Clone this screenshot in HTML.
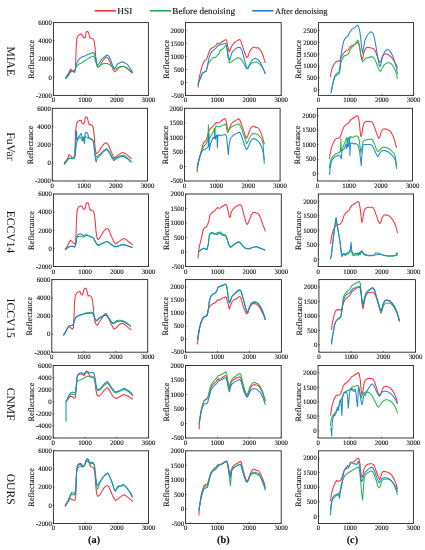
<!DOCTYPE html>
<html><head><meta charset="utf-8"><style>
html,body{margin:0;padding:0;background:#fff;}
svg{display:block;}
text{font-family:"Liberation Serif","Times New Roman",serif;fill:#111;stroke:#111;stroke-width:1.2px;text-rendering:geometricPrecision;}
.t{font-size:7px;}
.yl{font-size:8.2px;}
.rl{font-size:11.6px;}
.lg{font-size:9.2px;}
.cl{font-size:10.3px;font-weight:bold;}
</style></head><body>
<svg width="425" height="550" viewBox="0 0 425 550">
<rect width="425" height="550" fill="#fff"/>

<line x1="94.7" y1="10.8" x2="115.9" y2="10.8" stroke="#ff3040" stroke-width="1.6"/>
<text transform="translate(117.30 14.00) scale(0.1)" font-size="93.00">HSI</text>
<line x1="149.8" y1="10.8" x2="171.2" y2="10.8" stroke="#22b54c" stroke-width="1.6"/>
<text transform="translate(172.30 14.00) scale(0.1)" font-size="91.50">Before denoising</text>
<line x1="252.2" y1="10.8" x2="273.6" y2="10.8" stroke="#1e88cc" stroke-width="1.6"/>
<text transform="translate(275.00 14.00) scale(0.1)" font-size="84.00">After denoising</text>
<text transform="translate(7.20 61.20) rotate(90) scale(0.1)" font-size="116.00" text-anchor="middle" style="stroke:none">MIAE</text>
<text transform="translate(7.20 146.40) rotate(90) scale(0.1)" font-size="116.00" text-anchor="middle" style="stroke:none">FuVar</text>
<text transform="translate(7.20 232.00) rotate(90) scale(0.1)" font-size="116.00" text-anchor="middle" style="stroke:none">ECCV14</text>
<text transform="translate(7.20 318.20) rotate(90) scale(0.1)" font-size="116.00" text-anchor="middle" style="stroke:none">ICCV15</text>
<text transform="translate(7.20 404.20) rotate(90) scale(0.1)" font-size="116.00" text-anchor="middle" style="stroke:none">CNMF</text>
<text transform="translate(7.20 489.20) rotate(90) scale(0.1)" font-size="116.00" text-anchor="middle" style="stroke:none">OURS</text>
<clipPath id="cpa0"><rect x="53.4" y="22.6" width="95.0" height="72.8"/></clipPath>
<g clip-path="url(#cpa0)">
<path d="M65.5 77.9 L67.2 75.4 L68.9 72.5 L70.6 69.1 L71.8 70.3 L73.2 71.5 L74.5 72.5 L75.4 70.3 L76.2 47.4 L76.9 38.1 L78.2 35.6 L79.9 34.4 L81.6 33.9 L83.0 36.4 L84.2 38.1 L85.4 37.2 L86.0 32.5 L87.1 31.3 L88.4 32.2 L89.3 35.6 L90.1 38.1 L91.8 38.6 L93.2 38.9 L94.3 41.5 L95.2 49.1 L96.0 61.0 L96.9 65.2 L98.1 67.4 L99.4 66.4 L101.1 63.5 L103.7 59.3 L106.2 57.1 L107.9 57.9 L109.6 61.0 L111.3 65.2 L113.0 69.4 L114.7 72.0 L116.4 70.3 L118.9 67.7 L121.4 66.4 L124.0 66.4 L126.5 68.1 L129.1 70.3 L131.6 72.5 L132.8 73.3" fill="none" stroke="#ff3040" stroke-width="1.05" stroke-linejoin="round"/>
<path d="M65.5 78.8 L68.1 75.9 L70.6 72.0 L73.2 71.1 L74.9 70.3 L76.6 66.4 L79.1 64.0 L81.6 63.0 L84.2 61.0 L86.7 59.6 L89.3 57.6 L91.8 56.7 L93.5 55.9 L94.8 58.4 L96.0 62.7 L97.2 66.4 L98.6 66.9 L100.3 65.2 L103.7 63.5 L107.0 63.5 L109.6 64.4 L112.1 66.9 L114.7 69.4 L117.2 68.1 L120.6 66.6 L124.0 66.4 L126.5 67.4 L129.1 69.4 L132.5 72.5" fill="none" stroke="#22b54c" stroke-width="1.05" stroke-linejoin="round"/>
<path d="M65.5 78.8 L68.1 75.4 L70.6 71.1 L72.3 71.1 L74.0 71.6 L75.2 69.4 L76.6 63.5 L78.2 60.1 L79.9 58.4 L82.5 56.7 L85.0 55.9 L88.4 54.2 L91.0 53.3 L93.2 52.5 L94.3 53.3 L95.7 57.6 L96.5 63.5 L97.7 65.2 L99.4 62.7 L102.0 58.9 L104.5 56.7 L107.0 55.0 L108.7 55.9 L110.4 59.3 L112.5 65.2 L114.2 68.6 L115.5 67.4 L117.2 64.4 L119.8 62.7 L122.3 61.8 L124.8 62.7 L127.4 64.4 L129.9 67.7 L132.5 72.0" fill="none" stroke="#1e88cc" stroke-width="1.05" stroke-linejoin="round"/>
</g>
<rect x="53.4" y="22.6" width="95.0" height="72.8" fill="none" stroke="#262626" stroke-width="0.9"/>
<text transform="translate(51.90 24.90) scale(0.1)" font-size="68.00" text-anchor="end">6000</text>
<line x1="53.4" y1="22.6" x2="54.6" y2="22.6" stroke="#262626" stroke-width="0.7"/>
<text transform="translate(51.90 43.10) scale(0.1)" font-size="68.00" text-anchor="end">4000</text>
<line x1="53.4" y1="40.8" x2="54.6" y2="40.8" stroke="#262626" stroke-width="0.7"/>
<text transform="translate(51.90 61.30) scale(0.1)" font-size="68.00" text-anchor="end">2000</text>
<line x1="53.4" y1="59.0" x2="54.6" y2="59.0" stroke="#262626" stroke-width="0.7"/>
<text transform="translate(51.90 79.50) scale(0.1)" font-size="68.00" text-anchor="end">0</text>
<line x1="53.4" y1="77.2" x2="54.6" y2="77.2" stroke="#262626" stroke-width="0.7"/>
<text transform="translate(51.90 97.70) scale(0.1)" font-size="68.00" text-anchor="end">-2000</text>
<line x1="53.4" y1="95.4" x2="54.6" y2="95.4" stroke="#262626" stroke-width="0.7"/>
<text transform="translate(53.40 101.70) scale(0.1)" font-size="68.00" text-anchor="middle">0</text>
<line x1="53.4" y1="95.4" x2="53.4" y2="94.2" stroke="#262626" stroke-width="0.7"/>
<text transform="translate(85.07 101.70) scale(0.1)" font-size="68.00" text-anchor="middle">1000</text>
<line x1="85.1" y1="95.4" x2="85.1" y2="94.2" stroke="#262626" stroke-width="0.7"/>
<text transform="translate(116.73 101.70) scale(0.1)" font-size="68.00" text-anchor="middle">2000</text>
<line x1="116.7" y1="95.4" x2="116.7" y2="94.2" stroke="#262626" stroke-width="0.7"/>
<text transform="translate(148.40 101.70) scale(0.1)" font-size="68.00" text-anchor="middle">3000</text>
<line x1="148.4" y1="95.4" x2="148.4" y2="94.2" stroke="#262626" stroke-width="0.7"/>
<text transform="translate(34.00 59.30) rotate(-90) scale(0.1)" font-size="82.00" text-anchor="middle">Reflectance</text>
<clipPath id="cpa1"><rect x="52.3" y="108.3" width="95.2" height="72.7"/></clipPath>
<g clip-path="url(#cpa1)">
<path d="M64.0 163.1 L66.2 160.5 L67.9 158.0 L69.1 154.6 L70.5 155.4 L71.8 157.5 L73.5 158.5 L74.7 155.4 L75.6 131.7 L76.4 124.1 L77.6 121.6 L79.3 120.4 L81.0 120.2 L82.3 123.6 L83.5 124.1 L84.5 122.4 L85.2 117.8 L86.2 116.8 L87.4 117.8 L88.3 121.6 L89.1 124.6 L90.8 124.6 L92.2 125.3 L93.3 128.0 L94.2 135.1 L95.0 147.0 L95.9 152.4 L96.7 153.7 L98.4 152.4 L101.0 147.8 L103.5 144.4 L105.7 142.7 L107.4 143.6 L109.1 146.6 L111.1 151.2 L112.8 155.4 L114.2 158.0 L115.9 156.8 L118.8 154.6 L121.3 152.9 L123.0 152.4 L125.5 153.7 L128.1 155.8 L130.6 158.0 L131.8 158.8" fill="none" stroke="#ff3040" stroke-width="1.05" stroke-linejoin="round"/>
<path d="M64.0 164.8 L66.2 161.9 L68.8 158.5 L71.3 158.5 L73.9 158.5 L75.2 155.4 L76.4 144.4 L77.6 139.3 L78.9 138.2 L80.3 137.1 L81.3 138.5 L82.3 141.0 L83.2 138.5 L84.0 140.2 L84.9 136.8 L85.7 136.8 L87.4 137.6 L89.1 138.5 L90.8 139.3 L92.5 139.8 L93.8 142.7 L95.0 152.9 L95.9 157.1 L97.6 155.8 L100.1 154.1 L102.7 151.7 L105.2 149.5 L106.4 148.7 L107.7 149.5 L109.8 152.4 L112.0 156.8 L113.7 158.8 L116.2 157.5 L118.8 156.3 L121.3 155.4 L123.3 155.1 L125.5 156.3 L128.4 158.8 L131.5 161.9" fill="none" stroke="#22b54c" stroke-width="1.05" stroke-linejoin="round"/>
<path d="M64.0 163.9 L66.2 161.4 L68.8 158.0 L70.5 158.5 L73.0 158.8 L74.7 157.1 L75.6 145.3 L76.4 130.9 L77.2 140.2 L78.1 138.5 L79.3 136.0 L80.3 135.1 L81.0 133.4 L81.7 135.1 L82.3 138.5 L83.2 136.8 L84.0 141.0 L84.5 143.6 L85.0 134.3 L85.7 132.6 L87.1 132.6 L87.9 134.3 L88.8 137.6 L90.5 138.5 L92.2 139.3 L93.7 141.9 L94.5 152.0 L95.5 159.7 L96.2 161.9 L97.2 158.0 L99.3 156.3 L101.8 153.4 L104.4 150.7 L106.4 149.5 L107.7 150.4 L109.8 153.7 L112.0 158.0 L113.7 160.5 L115.4 159.3 L117.9 158.0 L120.4 156.8 L123.0 156.3 L125.5 157.5 L128.4 159.7 L131.5 162.6" fill="none" stroke="#1e88cc" stroke-width="1.05" stroke-linejoin="round"/>
</g>
<rect x="52.3" y="108.3" width="95.2" height="72.7" fill="none" stroke="#262626" stroke-width="0.9"/>
<text transform="translate(50.80 110.60) scale(0.1)" font-size="68.00" text-anchor="end">6000</text>
<line x1="52.3" y1="108.3" x2="53.5" y2="108.3" stroke="#262626" stroke-width="0.7"/>
<text transform="translate(50.80 128.78) scale(0.1)" font-size="68.00" text-anchor="end">4000</text>
<line x1="52.3" y1="126.5" x2="53.5" y2="126.5" stroke="#262626" stroke-width="0.7"/>
<text transform="translate(50.80 146.95) scale(0.1)" font-size="68.00" text-anchor="end">2000</text>
<line x1="52.3" y1="144.7" x2="53.5" y2="144.7" stroke="#262626" stroke-width="0.7"/>
<text transform="translate(50.80 165.12) scale(0.1)" font-size="68.00" text-anchor="end">0</text>
<line x1="52.3" y1="162.8" x2="53.5" y2="162.8" stroke="#262626" stroke-width="0.7"/>
<text transform="translate(50.80 183.30) scale(0.1)" font-size="68.00" text-anchor="end">-2000</text>
<line x1="52.3" y1="181.0" x2="53.5" y2="181.0" stroke="#262626" stroke-width="0.7"/>
<text transform="translate(52.30 187.60) scale(0.1)" font-size="68.00" text-anchor="middle">0</text>
<line x1="52.3" y1="181.0" x2="52.3" y2="179.8" stroke="#262626" stroke-width="0.7"/>
<text transform="translate(84.03 187.60) scale(0.1)" font-size="68.00" text-anchor="middle">1000</text>
<line x1="84.0" y1="181.0" x2="84.0" y2="179.8" stroke="#262626" stroke-width="0.7"/>
<text transform="translate(115.77 187.60) scale(0.1)" font-size="68.00" text-anchor="middle">2000</text>
<line x1="115.8" y1="181.0" x2="115.8" y2="179.8" stroke="#262626" stroke-width="0.7"/>
<text transform="translate(147.50 187.60) scale(0.1)" font-size="68.00" text-anchor="middle">3000</text>
<line x1="147.5" y1="181.0" x2="147.5" y2="179.8" stroke="#262626" stroke-width="0.7"/>
<text transform="translate(32.90 144.95) rotate(-90) scale(0.1)" font-size="82.00" text-anchor="middle">Reflectance</text>
<clipPath id="cpa2"><rect x="53.4" y="194.0" width="95.1" height="72.5"/></clipPath>
<g clip-path="url(#cpa2)">
<path d="M65.0 249.9 L66.7 247.4 L68.9 243.1 L70.6 240.1 L71.8 241.4 L73.5 243.1 L74.9 244.0 L75.7 241.4 L76.6 217.7 L77.2 210.1 L78.6 207.2 L80.3 205.9 L82.0 206.2 L83.0 208.9 L84.2 209.6 L85.4 207.6 L86.0 203.8 L87.1 202.5 L88.4 203.3 L89.3 207.2 L90.1 210.1 L91.8 210.1 L93.2 210.9 L94.3 214.0 L95.2 221.1 L96.0 231.3 L96.9 237.2 L98.1 239.7 L99.4 238.4 L101.6 234.7 L104.0 230.9 L106.2 228.7 L107.9 228.7 L109.1 230.4 L110.8 234.7 L112.5 238.9 L114.2 242.3 L115.5 244.0 L117.6 242.8 L120.3 240.6 L122.6 238.9 L124.0 238.4 L126.0 239.4 L128.7 241.8 L131.1 243.5 L132.8 244.8" fill="none" stroke="#ff3040" stroke-width="1.05" stroke-linejoin="round"/>
<path d="M65.0 249.9 L67.2 248.2 L69.8 246.5 L72.3 246.2 L74.5 246.9 L75.7 245.2 L76.6 238.4 L77.9 236.4 L79.9 236.4 L82.0 236.7 L83.7 237.2 L85.0 236.0 L86.4 235.2 L88.4 235.7 L90.1 236.4 L92.1 237.4 L93.8 238.7 L95.5 242.1 L97.2 244.8 L98.9 245.3 L101.1 244.1 L103.7 243.0 L106.2 241.6 L107.9 241.9 L110.1 243.6 L112.5 245.5 L114.7 246.9 L116.9 246.7 L118.9 245.8 L121.4 245.0 L123.6 244.7 L126.0 245.3 L128.7 246.3 L132.5 247.5" fill="none" stroke="#22b54c" stroke-width="1.05" stroke-linejoin="round"/>
<path d="M65.0 249.6 L67.2 247.9 L69.8 246.5 L72.3 246.2 L74.5 246.9 L75.7 244.8 L76.6 237.2 L77.9 234.7 L79.9 233.8 L81.6 234.3 L83.3 235.5 L85.4 235.0 L86.7 234.7 L88.4 235.5 L90.1 236.4 L92.1 237.2 L93.8 238.4 L95.5 241.8 L97.2 244.5 L98.9 245.2 L101.1 244.0 L103.7 242.8 L106.2 241.4 L107.9 241.8 L110.1 243.5 L112.5 245.2 L114.7 246.5 L116.9 246.5 L118.9 245.7 L121.4 244.8 L123.6 244.5 L126.0 245.2 L128.7 246.2 L132.5 247.4" fill="none" stroke="#1e88cc" stroke-width="1.05" stroke-linejoin="round"/>
</g>
<rect x="53.4" y="194.0" width="95.1" height="72.5" fill="none" stroke="#262626" stroke-width="0.9"/>
<text transform="translate(51.90 196.30) scale(0.1)" font-size="68.00" text-anchor="end">6000</text>
<line x1="53.4" y1="194.0" x2="54.6" y2="194.0" stroke="#262626" stroke-width="0.7"/>
<text transform="translate(51.90 214.43) scale(0.1)" font-size="68.00" text-anchor="end">4000</text>
<line x1="53.4" y1="212.1" x2="54.6" y2="212.1" stroke="#262626" stroke-width="0.7"/>
<text transform="translate(51.90 232.55) scale(0.1)" font-size="68.00" text-anchor="end">2000</text>
<line x1="53.4" y1="230.2" x2="54.6" y2="230.2" stroke="#262626" stroke-width="0.7"/>
<text transform="translate(51.90 250.68) scale(0.1)" font-size="68.00" text-anchor="end">0</text>
<line x1="53.4" y1="248.4" x2="54.6" y2="248.4" stroke="#262626" stroke-width="0.7"/>
<text transform="translate(51.90 268.80) scale(0.1)" font-size="68.00" text-anchor="end">-2000</text>
<line x1="53.4" y1="266.5" x2="54.6" y2="266.5" stroke="#262626" stroke-width="0.7"/>
<text transform="translate(53.40 273.60) scale(0.1)" font-size="68.00" text-anchor="middle">0</text>
<line x1="53.4" y1="266.5" x2="53.4" y2="265.3" stroke="#262626" stroke-width="0.7"/>
<text transform="translate(85.10 273.60) scale(0.1)" font-size="68.00" text-anchor="middle">1000</text>
<line x1="85.1" y1="266.5" x2="85.1" y2="265.3" stroke="#262626" stroke-width="0.7"/>
<text transform="translate(116.80 273.60) scale(0.1)" font-size="68.00" text-anchor="middle">2000</text>
<line x1="116.8" y1="266.5" x2="116.8" y2="265.3" stroke="#262626" stroke-width="0.7"/>
<text transform="translate(148.50 273.60) scale(0.1)" font-size="68.00" text-anchor="middle">3000</text>
<line x1="148.5" y1="266.5" x2="148.5" y2="265.3" stroke="#262626" stroke-width="0.7"/>
<text transform="translate(34.00 230.55) rotate(-90) scale(0.1)" font-size="82.00" text-anchor="middle">Reflectance</text>
<clipPath id="cpa3"><rect x="51.8" y="279.6" width="95.9" height="72.6"/></clipPath>
<g clip-path="url(#cpa3)">
<path d="M63.5 335.6 L65.2 332.5 L66.9 329.1 L68.6 326.1 L69.8 327.1 L71.2 328.3 L72.5 329.1 L73.5 327.8 L74.6 302.0 L75.4 295.2 L76.6 293.2 L78.3 291.9 L80.0 291.5 L81.0 294.4 L82.0 295.2 L83.0 293.6 L83.9 289.3 L85.1 288.1 L86.4 288.8 L87.3 292.7 L88.1 296.1 L89.8 295.6 L91.2 296.6 L92.3 299.5 L93.2 306.3 L94.0 315.6 L94.9 321.5 L96.1 324.4 L97.3 325.4 L98.6 323.2 L100.8 319.8 L103.0 316.4 L104.7 313.9 L106.1 313.5 L107.6 315.9 L109.3 319.8 L111.0 323.7 L112.7 327.1 L113.9 329.1 L115.6 328.3 L117.8 326.1 L120.3 324.0 L122.0 323.2 L124.0 324.0 L126.7 326.1 L129.1 328.3 L131.3 330.0" fill="none" stroke="#ff3040" stroke-width="1.05" stroke-linejoin="round"/>
<path d="M63.5 335.1 L65.2 332.5 L66.9 329.5 L68.6 326.6 L70.3 325.7 L72.0 325.4 L73.2 324.7 L74.2 321.0 L75.4 318.1 L77.1 316.4 L79.3 315.2 L81.3 314.4 L83.0 313.9 L85.1 313.0 L87.3 312.7 L89.5 312.5 L91.5 312.2 L92.8 313.0 L94.0 315.9 L95.2 319.0 L96.2 320.3 L97.4 319.6 L99.1 317.9 L101.3 316.6 L103.7 315.6 L105.4 314.9 L106.7 315.2 L108.4 317.3 L110.5 320.3 L112.7 323.2 L114.4 322.4 L116.1 321.0 L118.3 320.3 L120.6 320.3 L122.8 320.7 L125.4 322.0 L127.9 323.7 L130.8 326.1" fill="none" stroke="#22b54c" stroke-width="1.05" stroke-linejoin="round"/>
<path d="M63.5 335.1 L65.2 332.5 L66.9 329.5 L68.6 326.6 L70.3 325.7 L72.0 325.4 L73.2 324.9 L74.2 321.5 L75.4 318.1 L77.1 316.4 L79.3 315.6 L81.3 314.7 L83.0 314.2 L85.1 313.5 L87.3 313.4 L89.5 313.4 L91.5 312.7 L92.8 313.5 L94.0 316.4 L95.2 319.3 L96.2 321.0 L97.4 320.3 L99.1 318.6 L101.3 317.3 L103.7 315.9 L105.4 315.2 L106.7 315.6 L108.4 317.6 L110.5 320.7 L112.7 323.7 L114.4 323.2 L116.1 322.0 L118.3 321.2 L120.6 321.2 L122.8 321.5 L125.4 322.7 L127.9 324.4 L130.8 326.6" fill="none" stroke="#1e88cc" stroke-width="1.05" stroke-linejoin="round"/>
</g>
<rect x="51.8" y="279.6" width="95.9" height="72.6" fill="none" stroke="#262626" stroke-width="0.9"/>
<text transform="translate(50.30 281.90) scale(0.1)" font-size="68.00" text-anchor="end">6000</text>
<line x1="51.8" y1="279.6" x2="53.0" y2="279.6" stroke="#262626" stroke-width="0.7"/>
<text transform="translate(50.30 300.05) scale(0.1)" font-size="68.00" text-anchor="end">4000</text>
<line x1="51.8" y1="297.8" x2="53.0" y2="297.8" stroke="#262626" stroke-width="0.7"/>
<text transform="translate(50.30 318.20) scale(0.1)" font-size="68.00" text-anchor="end">2000</text>
<line x1="51.8" y1="315.9" x2="53.0" y2="315.9" stroke="#262626" stroke-width="0.7"/>
<text transform="translate(50.30 336.35) scale(0.1)" font-size="68.00" text-anchor="end">0</text>
<line x1="51.8" y1="334.1" x2="53.0" y2="334.1" stroke="#262626" stroke-width="0.7"/>
<text transform="translate(50.30 354.50) scale(0.1)" font-size="68.00" text-anchor="end">-2000</text>
<line x1="51.8" y1="352.2" x2="53.0" y2="352.2" stroke="#262626" stroke-width="0.7"/>
<text transform="translate(51.80 359.00) scale(0.1)" font-size="68.00" text-anchor="middle">0</text>
<line x1="51.8" y1="352.2" x2="51.8" y2="351.0" stroke="#262626" stroke-width="0.7"/>
<text transform="translate(83.77 359.00) scale(0.1)" font-size="68.00" text-anchor="middle">1000</text>
<line x1="83.8" y1="352.2" x2="83.8" y2="351.0" stroke="#262626" stroke-width="0.7"/>
<text transform="translate(115.73 359.00) scale(0.1)" font-size="68.00" text-anchor="middle">2000</text>
<line x1="115.7" y1="352.2" x2="115.7" y2="351.0" stroke="#262626" stroke-width="0.7"/>
<text transform="translate(147.70 359.00) scale(0.1)" font-size="68.00" text-anchor="middle">3000</text>
<line x1="147.7" y1="352.2" x2="147.7" y2="351.0" stroke="#262626" stroke-width="0.7"/>
<text transform="translate(32.40 316.20) rotate(-90) scale(0.1)" font-size="82.00" text-anchor="middle">Reflectance</text>
<clipPath id="cpa4"><rect x="53.2" y="365.5" width="95.4" height="72.5"/></clipPath>
<g clip-path="url(#cpa4)">
<path d="M66.0 401.4 L67.2 400.2 L68.9 398.0 L70.6 396.3 L72.3 396.8 L74.0 398.0 L75.2 398.0 L76.2 390.4 L76.9 378.6 L77.9 375.2 L79.9 374.3 L81.6 373.8 L83.0 374.8 L84.2 375.5 L85.4 373.5 L86.4 371.8 L87.6 372.1 L88.8 374.3 L90.1 376.0 L91.8 376.5 L93.2 376.9 L94.3 378.6 L95.2 383.6 L96.0 390.4 L96.9 394.6 L98.2 396.3 L99.9 395.5 L102.3 393.0 L104.5 390.1 L106.7 387.9 L107.9 387.9 L109.6 390.4 L111.3 393.8 L113.0 396.3 L114.7 398.0 L116.4 398.5 L118.9 397.2 L121.4 395.5 L123.6 394.6 L125.7 395.2 L128.2 396.3 L130.8 398.0 L132.8 399.4" fill="none" stroke="#ff3040" stroke-width="1.05" stroke-linejoin="round"/>
<path d="M66.0 401.4 L67.2 399.7 L68.9 396.8 L70.6 394.6 L72.3 394.1 L74.0 394.6 L75.2 395.2 L76.2 388.7 L76.9 381.9 L77.9 380.2 L79.9 379.9 L81.6 379.4 L83.0 378.6 L84.2 378.2 L85.4 377.2 L86.7 376.5 L88.1 376.0 L89.3 376.5 L90.4 377.2 L92.1 377.2 L93.5 377.2 L94.5 379.4 L95.4 383.6 L96.2 387.9 L97.2 390.1 L98.6 390.8 L100.3 389.6 L102.3 387.4 L104.5 385.0 L106.7 383.3 L107.9 383.3 L109.6 385.7 L111.8 389.1 L113.8 391.8 L115.9 393.0 L117.6 392.1 L119.8 391.3 L122.3 390.1 L124.0 389.6 L126.0 390.1 L128.7 391.8 L130.8 393.5 L132.8 396.3" fill="none" stroke="#22b54c" stroke-width="1.05" stroke-linejoin="round"/>
<path d="M66.0 421.8 L66.0 401.4 L67.2 398.9 L68.9 395.5 L70.6 393.0 L72.3 392.1 L74.0 392.4 L75.2 393.0 L76.2 385.3 L76.9 377.7 L77.9 374.3 L79.9 373.1 L81.6 372.6 L83.0 373.8 L84.2 374.3 L85.4 372.1 L86.4 370.9 L87.6 371.4 L88.8 372.6 L90.1 373.1 L91.8 372.6 L93.2 372.6 L94.3 374.3 L95.2 378.6 L96.0 384.5 L96.9 388.7 L98.2 390.1 L99.9 388.7 L102.3 386.2 L104.5 383.6 L106.7 381.6 L107.9 381.9 L109.6 384.5 L111.8 387.9 L113.8 390.4 L115.9 392.1 L117.6 391.3 L119.8 390.4 L122.3 389.1 L124.0 388.4 L126.0 389.1 L128.7 390.8 L130.8 392.4 L132.8 395.5" fill="none" stroke="#1e88cc" stroke-width="1.05" stroke-linejoin="round"/>
</g>
<rect x="53.2" y="365.5" width="95.4" height="72.5" fill="none" stroke="#262626" stroke-width="0.9"/>
<text transform="translate(51.70 367.80) scale(0.1)" font-size="68.00" text-anchor="end">6000</text>
<line x1="53.2" y1="365.5" x2="54.4" y2="365.5" stroke="#262626" stroke-width="0.7"/>
<text transform="translate(51.70 379.88) scale(0.1)" font-size="68.00" text-anchor="end">4000</text>
<line x1="53.2" y1="377.6" x2="54.4" y2="377.6" stroke="#262626" stroke-width="0.7"/>
<text transform="translate(51.70 391.97) scale(0.1)" font-size="68.00" text-anchor="end">2000</text>
<line x1="53.2" y1="389.7" x2="54.4" y2="389.7" stroke="#262626" stroke-width="0.7"/>
<text transform="translate(51.70 404.05) scale(0.1)" font-size="68.00" text-anchor="end">0</text>
<line x1="53.2" y1="401.8" x2="54.4" y2="401.8" stroke="#262626" stroke-width="0.7"/>
<text transform="translate(51.70 416.13) scale(0.1)" font-size="68.00" text-anchor="end">-2000</text>
<line x1="53.2" y1="413.8" x2="54.4" y2="413.8" stroke="#262626" stroke-width="0.7"/>
<text transform="translate(51.70 428.22) scale(0.1)" font-size="68.00" text-anchor="end">-4000</text>
<line x1="53.2" y1="425.9" x2="54.4" y2="425.9" stroke="#262626" stroke-width="0.7"/>
<text transform="translate(51.70 440.30) scale(0.1)" font-size="68.00" text-anchor="end">-6000</text>
<line x1="53.2" y1="438.0" x2="54.4" y2="438.0" stroke="#262626" stroke-width="0.7"/>
<text transform="translate(53.20 444.70) scale(0.1)" font-size="68.00" text-anchor="middle">0</text>
<line x1="53.2" y1="438.0" x2="53.2" y2="436.8" stroke="#262626" stroke-width="0.7"/>
<text transform="translate(85.00 444.70) scale(0.1)" font-size="68.00" text-anchor="middle">1000</text>
<line x1="85.0" y1="438.0" x2="85.0" y2="436.8" stroke="#262626" stroke-width="0.7"/>
<text transform="translate(116.80 444.70) scale(0.1)" font-size="68.00" text-anchor="middle">2000</text>
<line x1="116.8" y1="438.0" x2="116.8" y2="436.8" stroke="#262626" stroke-width="0.7"/>
<text transform="translate(148.60 444.70) scale(0.1)" font-size="68.00" text-anchor="middle">3000</text>
<line x1="148.6" y1="438.0" x2="148.6" y2="436.8" stroke="#262626" stroke-width="0.7"/>
<text transform="translate(33.80 402.05) rotate(-90) scale(0.1)" font-size="82.00" text-anchor="middle">Reflectance</text>
<clipPath id="cpa5"><rect x="53.4" y="450.8" width="95.1" height="72.7"/></clipPath>
<g clip-path="url(#cpa5)">
<path d="M65.0 506.6 L66.7 503.9 L68.4 501.5 L70.1 498.1 L71.5 499.3 L73.2 500.1 L74.9 500.5 L75.7 496.7 L76.6 470.5 L77.4 465.4 L79.1 463.7 L80.8 463.2 L82.5 465.4 L83.7 466.2 L85.0 464.2 L86.0 460.8 L87.1 459.5 L88.4 460.3 L89.4 463.7 L90.4 466.6 L92.1 467.1 L93.5 467.9 L94.5 470.5 L95.2 478.1 L96.0 488.3 L96.9 494.7 L97.9 496.4 L99.4 495.4 L101.6 491.7 L104.0 487.9 L106.2 485.7 L107.9 485.7 L109.1 487.4 L110.8 491.3 L112.5 495.4 L114.2 498.8 L115.5 500.5 L117.6 499.3 L120.3 497.1 L122.6 495.4 L124.0 494.7 L126.0 495.9 L128.7 498.1 L131.1 500.1 L132.8 501.5" fill="none" stroke="#ff3040" stroke-width="1.05" stroke-linejoin="round"/>
<path d="M65.0 506.1 L66.7 503.2 L68.4 500.5 L70.1 495.4 L71.5 492.5 L73.2 493.0 L74.5 493.4 L75.7 490.3 L76.6 472.7 L77.4 468.8 L79.1 466.6 L80.8 465.9 L82.5 467.1 L83.7 466.6 L85.0 464.6 L86.0 462.0 L87.1 461.2 L88.4 462.0 L89.4 463.2 L90.4 464.2 L92.1 463.2 L93.5 463.7 L94.5 466.2 L95.2 473.0 L96.0 480.6 L96.9 487.9 L97.9 489.1 L99.4 484.0 L101.6 479.5 L104.0 476.1 L106.2 473.9 L107.4 473.0 L108.7 474.7 L110.4 478.4 L112.5 484.0 L114.2 489.6 L115.5 491.3 L117.2 486.9 L118.9 485.7 L121.4 486.2 L123.1 484.5 L124.8 485.7 L127.0 488.3 L129.1 491.3 L130.8 494.2 L132.5 497.6" fill="none" stroke="#22b54c" stroke-width="1.05" stroke-linejoin="round"/>
<path d="M65.0 505.6 L66.7 502.7 L68.4 499.8 L70.1 496.4 L71.5 494.2 L73.2 494.7 L74.9 495.0 L75.7 491.7 L76.6 471.3 L77.4 466.2 L79.1 464.2 L80.8 464.6 L82.5 466.2 L83.7 465.9 L85.0 463.7 L86.0 460.3 L87.1 458.6 L88.4 459.5 L89.4 461.5 L90.4 462.9 L92.1 462.0 L93.5 462.9 L94.5 465.4 L95.2 471.3 L96.0 479.8 L96.9 485.7 L97.9 484.9 L99.4 482.3 L101.6 479.0 L104.0 476.1 L106.2 473.9 L107.4 473.0 L108.7 474.4 L110.4 478.1 L112.5 483.2 L114.2 489.1 L115.5 490.8 L117.2 488.3 L118.9 486.6 L121.4 485.7 L123.1 484.5 L124.8 485.7 L127.0 487.9 L129.1 490.8 L130.8 493.0 L132.5 496.7" fill="none" stroke="#1e88cc" stroke-width="1.05" stroke-linejoin="round"/>
</g>
<rect x="53.4" y="450.8" width="95.1" height="72.7" fill="none" stroke="#262626" stroke-width="0.9"/>
<text transform="translate(51.90 453.10) scale(0.1)" font-size="68.00" text-anchor="end">6000</text>
<line x1="53.4" y1="450.8" x2="54.6" y2="450.8" stroke="#262626" stroke-width="0.7"/>
<text transform="translate(51.90 471.28) scale(0.1)" font-size="68.00" text-anchor="end">4000</text>
<line x1="53.4" y1="469.0" x2="54.6" y2="469.0" stroke="#262626" stroke-width="0.7"/>
<text transform="translate(51.90 489.45) scale(0.1)" font-size="68.00" text-anchor="end">2000</text>
<line x1="53.4" y1="487.1" x2="54.6" y2="487.1" stroke="#262626" stroke-width="0.7"/>
<text transform="translate(51.90 507.62) scale(0.1)" font-size="68.00" text-anchor="end">0</text>
<line x1="53.4" y1="505.3" x2="54.6" y2="505.3" stroke="#262626" stroke-width="0.7"/>
<text transform="translate(51.90 525.80) scale(0.1)" font-size="68.00" text-anchor="end">-2000</text>
<line x1="53.4" y1="523.5" x2="54.6" y2="523.5" stroke="#262626" stroke-width="0.7"/>
<text transform="translate(53.40 530.00) scale(0.1)" font-size="68.00" text-anchor="middle">0</text>
<line x1="53.4" y1="523.5" x2="53.4" y2="522.3" stroke="#262626" stroke-width="0.7"/>
<text transform="translate(85.10 530.00) scale(0.1)" font-size="68.00" text-anchor="middle">1000</text>
<line x1="85.1" y1="523.5" x2="85.1" y2="522.3" stroke="#262626" stroke-width="0.7"/>
<text transform="translate(116.80 530.00) scale(0.1)" font-size="68.00" text-anchor="middle">2000</text>
<line x1="116.8" y1="523.5" x2="116.8" y2="522.3" stroke="#262626" stroke-width="0.7"/>
<text transform="translate(148.50 530.00) scale(0.1)" font-size="68.00" text-anchor="middle">3000</text>
<line x1="148.5" y1="523.5" x2="148.5" y2="522.3" stroke="#262626" stroke-width="0.7"/>
<text transform="translate(34.00 487.45) rotate(-90) scale(0.1)" font-size="82.00" text-anchor="middle">Reflectance</text>
<clipPath id="cpb0"><rect x="185.5" y="22.6" width="95.7" height="72.8"/></clipPath>
<g clip-path="url(#cpb0)">
<path d="M198.0 87.4 L198.7 81.4 L199.7 75.5 L200.9 70.4 L202.1 66.2 L203.5 62.3 L204.8 60.3 L206.0 59.9 L207.2 57.7 L208.2 54.3 L209.4 51.0 L211.1 48.4 L212.8 47.6 L214.5 46.7 L216.2 45.0 L217.4 43.3 L218.7 43.7 L220.4 43.0 L222.1 41.6 L223.8 40.8 L225.5 39.6 L226.7 40.3 L227.5 45.0 L228.5 49.3 L229.4 51.8 L230.2 49.8 L231.4 46.7 L233.1 44.2 L235.3 41.6 L237.7 40.4 L239.4 39.6 L240.4 39.9 L241.6 43.3 L243.3 48.4 L245.0 53.5 L246.7 57.7 L247.9 56.5 L249.2 52.6 L250.9 49.3 L252.6 47.6 L254.3 47.1 L256.3 48.1 L258.0 47.6 L259.7 49.3 L261.4 51.8 L263.1 56.0 L264.8 61.1 L265.3 62.8" fill="none" stroke="#ff3040" stroke-width="1.05" stroke-linejoin="round"/>
<path d="M198.0 84.8 L198.7 82.3 L200.1 78.9 L201.4 75.5 L202.6 73.0 L204.3 72.1 L206.0 71.3 L207.2 67.4 L208.2 63.3 L210.1 61.1 L211.4 59.3 L213.3 57.7 L215.3 57.2 L216.7 56.4 L218.0 54.5 L219.1 53.5 L219.9 50.8 L221.8 49.8 L223.8 47.9 L225.2 46.0 L226.0 45.5 L227.0 48.8 L227.9 57.2 L229.4 62.5 L230.7 62.5 L232.6 60.6 L233.6 60.3 L236.0 58.6 L238.2 57.7 L239.9 58.2 L241.6 59.9 L243.3 62.8 L245.0 66.2 L246.7 68.7 L247.9 67.9 L249.6 65.0 L251.8 63.3 L254.0 62.3 L256.0 62.0 L258.0 62.8 L260.2 64.5 L261.9 66.7 L263.6 69.6 L265.3 73.8" fill="none" stroke="#22b54c" stroke-width="1.05" stroke-linejoin="round"/>
<path d="M198.0 84.8 L198.7 82.3 L200.1 78.9 L201.4 75.5 L202.6 73.0 L204.3 72.1 L206.0 71.3 L207.2 67.4 L208.2 62.3 L209.1 57.7 L210.6 53.5 L211.9 51.6 L213.8 49.8 L215.7 48.4 L217.5 46.0 L219.4 45.0 L221.8 44.2 L224.1 43.7 L225.7 43.2 L226.5 45.0 L227.5 50.6 L228.4 56.4 L229.7 60.1 L230.6 56.9 L231.9 52.6 L234.0 50.1 L236.5 48.1 L238.7 47.2 L240.4 47.6 L241.8 50.1 L243.3 55.2 L245.0 62.0 L246.7 67.9 L247.9 68.7 L249.2 65.4 L250.9 62.0 L252.9 59.4 L255.1 58.2 L256.8 58.9 L258.5 59.9 L260.2 62.3 L261.9 65.7 L263.6 69.6 L265.3 73.8" fill="none" stroke="#1e88cc" stroke-width="1.05" stroke-linejoin="round"/>
</g>
<rect x="185.5" y="22.6" width="95.7" height="72.8" fill="none" stroke="#262626" stroke-width="0.9"/>
<text transform="translate(184.00 32.60) scale(0.1)" font-size="68.00" text-anchor="end">2000</text>
<line x1="185.5" y1="30.3" x2="186.7" y2="30.3" stroke="#262626" stroke-width="0.7"/>
<text transform="translate(184.00 45.65) scale(0.1)" font-size="68.00" text-anchor="end">1500</text>
<line x1="185.5" y1="43.3" x2="186.7" y2="43.3" stroke="#262626" stroke-width="0.7"/>
<text transform="translate(184.00 58.70) scale(0.1)" font-size="68.00" text-anchor="end">1000</text>
<line x1="185.5" y1="56.4" x2="186.7" y2="56.4" stroke="#262626" stroke-width="0.7"/>
<text transform="translate(184.00 71.75) scale(0.1)" font-size="68.00" text-anchor="end">500</text>
<line x1="185.5" y1="69.5" x2="186.7" y2="69.5" stroke="#262626" stroke-width="0.7"/>
<text transform="translate(184.00 84.80) scale(0.1)" font-size="68.00" text-anchor="end">0</text>
<line x1="185.5" y1="82.5" x2="186.7" y2="82.5" stroke="#262626" stroke-width="0.7"/>
<text transform="translate(184.00 97.85) scale(0.1)" font-size="68.00" text-anchor="end">-500</text>
<line x1="185.5" y1="95.5" x2="186.7" y2="95.5" stroke="#262626" stroke-width="0.7"/>
<text transform="translate(185.50 101.70) scale(0.1)" font-size="68.00" text-anchor="middle">0</text>
<line x1="185.5" y1="95.4" x2="185.5" y2="94.2" stroke="#262626" stroke-width="0.7"/>
<text transform="translate(217.40 101.70) scale(0.1)" font-size="68.00" text-anchor="middle">1000</text>
<line x1="217.4" y1="95.4" x2="217.4" y2="94.2" stroke="#262626" stroke-width="0.7"/>
<text transform="translate(249.30 101.70) scale(0.1)" font-size="68.00" text-anchor="middle">2000</text>
<line x1="249.3" y1="95.4" x2="249.3" y2="94.2" stroke="#262626" stroke-width="0.7"/>
<text transform="translate(281.20 101.70) scale(0.1)" font-size="68.00" text-anchor="middle">3000</text>
<line x1="281.2" y1="95.4" x2="281.2" y2="94.2" stroke="#262626" stroke-width="0.7"/>
<text transform="translate(168.50 59.30) rotate(-90) scale(0.1)" font-size="82.00" text-anchor="middle">Reflectance</text>
<clipPath id="cpb1"><rect x="184.5" y="108.3" width="95.6" height="72.7"/></clipPath>
<g clip-path="url(#cpb1)">
<path d="M197.0 172.4 L197.9 164.4 L199.1 158.8 L200.8 153.1 L202.0 148.2 L203.3 143.2 L205.2 141.5 L206.5 139.2 L207.7 134.9 L208.9 131.2 L210.1 128.7 L211.8 127.5 L213.5 125.8 L215.2 123.6 L216.4 122.4 L218.1 122.9 L219.8 121.9 L221.4 120.7 L223.1 119.5 L224.8 118.5 L225.8 119.5 L226.7 124.1 L227.5 128.3 L228.4 131.7 L229.2 129.2 L230.4 125.8 L232.1 122.9 L234.3 121.2 L236.7 119.9 L238.4 118.7 L239.7 119.5 L241.1 123.2 L242.8 128.3 L244.5 133.4 L246.2 138.2 L247.4 136.8 L249.1 131.7 L250.8 128.0 L252.4 126.3 L254.1 126.3 L255.8 127.5 L257.5 127.5 L259.2 129.2 L260.9 132.6 L262.6 137.6 L264.0 142.7 L264.3 144.4" fill="none" stroke="#ff3040" stroke-width="1.05" stroke-linejoin="round"/>
<path d="M197.0 170.7 L197.7 166.4 L198.7 161.4 L199.9 156.3 L201.1 151.7 L202.5 148.7 L204.2 146.1 L205.9 143.9 L207.2 141.9 L207.9 139.3 L208.4 124.9 L208.7 139.3 L209.6 138.5 L210.9 136.0 L212.3 133.4 L213.5 130.9 L214.3 128.3 L214.8 135.1 L215.3 128.3 L216.0 125.8 L216.9 126.6 L218.1 127.0 L220.3 126.3 L222.0 125.8 L223.6 124.9 L225.3 124.1 L226.2 125.8 L227.0 130.9 L227.9 132.6 L228.7 130.0 L230.4 128.0 L232.6 126.3 L235.5 124.9 L238.4 124.1 L239.7 124.6 L241.4 128.3 L243.5 134.3 L245.2 139.3 L246.5 143.6 L247.9 141.9 L249.6 137.6 L251.3 134.8 L253.3 133.4 L255.0 133.8 L256.7 134.3 L258.4 135.1 L260.1 136.8 L261.8 139.3 L263.1 143.6 L264.0 158.8 L264.3 163.9" fill="none" stroke="#22b54c" stroke-width="1.05" stroke-linejoin="round"/>
<path d="M197.0 167.8 L198.2 162.0 L199.9 156.3 L202.0 151.4 L203.1 149.7 L205.2 149.3 L207.4 147.3 L208.2 146.5 L208.9 133.1 L209.4 150.4 L210.3 144.4 L211.8 140.2 L213.0 137.6 L214.0 138.5 L214.7 131.7 L215.3 139.3 L216.0 136.8 L216.9 135.1 L217.4 147.8 L217.9 135.1 L219.4 135.1 L221.1 135.4 L222.8 135.1 L224.5 134.8 L225.8 134.8 L226.7 137.6 L227.5 145.3 L228.4 154.6 L229.1 145.3 L230.4 138.5 L232.6 136.0 L234.7 134.3 L237.2 133.1 L238.9 132.2 L240.1 132.6 L241.8 136.8 L243.5 141.9 L245.2 147.0 L246.5 149.5 L247.9 147.8 L249.6 143.6 L251.3 140.2 L253.0 138.5 L254.6 138.8 L256.3 139.8 L258.0 141.0 L260.1 143.6 L261.8 147.8 L263.5 153.7 L264.3 160.5" fill="none" stroke="#1e88cc" stroke-width="1.05" stroke-linejoin="round"/>
</g>
<rect x="184.5" y="108.3" width="95.6" height="72.7" fill="none" stroke="#262626" stroke-width="0.9"/>
<text transform="translate(183.00 110.60) scale(0.1)" font-size="68.00" text-anchor="end">2000</text>
<line x1="184.5" y1="108.3" x2="185.7" y2="108.3" stroke="#262626" stroke-width="0.7"/>
<text transform="translate(183.00 125.14) scale(0.1)" font-size="68.00" text-anchor="end">1500</text>
<line x1="184.5" y1="122.8" x2="185.7" y2="122.8" stroke="#262626" stroke-width="0.7"/>
<text transform="translate(183.00 139.68) scale(0.1)" font-size="68.00" text-anchor="end">1000</text>
<line x1="184.5" y1="137.4" x2="185.7" y2="137.4" stroke="#262626" stroke-width="0.7"/>
<text transform="translate(183.00 154.22) scale(0.1)" font-size="68.00" text-anchor="end">500</text>
<line x1="184.5" y1="151.9" x2="185.7" y2="151.9" stroke="#262626" stroke-width="0.7"/>
<text transform="translate(183.00 168.76) scale(0.1)" font-size="68.00" text-anchor="end">0</text>
<line x1="184.5" y1="166.5" x2="185.7" y2="166.5" stroke="#262626" stroke-width="0.7"/>
<text transform="translate(183.00 183.30) scale(0.1)" font-size="68.00" text-anchor="end">-500</text>
<line x1="184.5" y1="181.0" x2="185.7" y2="181.0" stroke="#262626" stroke-width="0.7"/>
<text transform="translate(184.50 187.60) scale(0.1)" font-size="68.00" text-anchor="middle">0</text>
<line x1="184.5" y1="181.0" x2="184.5" y2="179.8" stroke="#262626" stroke-width="0.7"/>
<text transform="translate(216.37 187.60) scale(0.1)" font-size="68.00" text-anchor="middle">1000</text>
<line x1="216.4" y1="181.0" x2="216.4" y2="179.8" stroke="#262626" stroke-width="0.7"/>
<text transform="translate(248.23 187.60) scale(0.1)" font-size="68.00" text-anchor="middle">2000</text>
<line x1="248.2" y1="181.0" x2="248.2" y2="179.8" stroke="#262626" stroke-width="0.7"/>
<text transform="translate(280.10 187.60) scale(0.1)" font-size="68.00" text-anchor="middle">3000</text>
<line x1="280.1" y1="181.0" x2="280.1" y2="179.8" stroke="#262626" stroke-width="0.7"/>
<text transform="translate(167.50 144.95) rotate(-90) scale(0.1)" font-size="82.00" text-anchor="middle">Reflectance</text>
<clipPath id="cpb2"><rect x="185.6" y="194.0" width="95.7" height="72.5"/></clipPath>
<g clip-path="url(#cpb2)">
<path d="M198.0 258.4 L198.6 251.1 L199.4 246.2 L200.6 241.3 L201.8 236.4 L203.0 230.6 L204.3 227.7 L206.2 226.9 L207.5 224.8 L208.7 221.6 L209.9 215.3 L211.6 213.0 L213.3 211.8 L215.0 210.6 L216.2 208.9 L217.4 207.6 L218.7 208.2 L220.4 207.9 L222.1 206.7 L223.8 205.5 L225.5 204.5 L226.5 205.0 L227.5 208.4 L228.4 212.6 L229.2 216.9 L230.1 217.7 L230.9 213.5 L232.3 210.1 L234.3 207.9 L236.5 206.2 L238.7 205.0 L240.4 204.5 L241.6 206.2 L242.9 210.9 L244.5 216.9 L245.8 222.0 L247.2 224.5 L248.4 222.8 L249.6 219.4 L251.2 215.2 L252.9 212.6 L254.6 212.3 L256.3 213.0 L258.0 213.5 L259.4 215.2 L261.1 219.4 L262.8 224.5 L264.5 228.7 L265.3 231.3" fill="none" stroke="#ff3040" stroke-width="1.05" stroke-linejoin="round"/>
<path d="M198.0 252.4 L199.2 251.3 L200.9 249.9 L202.6 248.6 L203.8 248.2 L205.2 249.1 L206.9 249.6 L208.2 244.8 L209.4 234.7 L210.6 233.0 L211.9 232.6 L213.3 233.0 L214.5 233.8 L216.2 233.3 L217.9 232.6 L219.6 232.1 L220.8 232.6 L222.1 233.8 L223.8 234.7 L225.5 234.7 L226.8 237.2 L228.0 241.8 L229.2 245.2 L230.6 246.9 L232.3 245.7 L234.3 244.0 L236.5 242.8 L238.2 241.8 L239.9 242.1 L241.6 244.0 L243.3 246.5 L245.0 247.9 L246.7 248.6 L248.4 249.1 L250.6 248.2 L252.6 247.4 L254.6 246.9 L256.3 246.5 L258.5 247.4 L261.1 248.6 L263.6 249.6 L265.3 250.2" fill="none" stroke="#22b54c" stroke-width="1.05" stroke-linejoin="round"/>
<path d="M198.0 252.4 L199.2 251.3 L200.9 249.9 L202.6 248.6 L203.8 248.2 L205.2 249.1 L206.9 249.6 L208.2 244.8 L209.4 235.5 L210.6 233.8 L211.9 233.0 L213.3 233.3 L214.5 234.3 L215.7 233.8 L217.0 234.7 L218.4 233.8 L219.6 233.0 L220.8 233.8 L222.1 235.0 L223.8 235.5 L225.5 236.0 L226.8 238.4 L228.0 242.3 L229.2 245.7 L230.6 247.4 L232.3 246.2 L234.3 244.5 L236.5 243.1 L238.2 242.3 L239.9 242.8 L241.6 244.5 L243.3 246.5 L245.0 247.9 L246.7 248.6 L248.4 249.1 L250.6 248.2 L252.6 247.4 L254.6 246.9 L256.3 246.5 L258.5 247.4 L261.1 248.6 L263.6 249.6 L265.3 250.2" fill="none" stroke="#1e88cc" stroke-width="1.05" stroke-linejoin="round"/>
</g>
<rect x="185.6" y="194.0" width="95.7" height="72.5" fill="none" stroke="#262626" stroke-width="0.9"/>
<text transform="translate(184.10 196.30) scale(0.1)" font-size="68.00" text-anchor="end">2000</text>
<line x1="185.6" y1="194.0" x2="186.8" y2="194.0" stroke="#262626" stroke-width="0.7"/>
<text transform="translate(184.10 210.80) scale(0.1)" font-size="68.00" text-anchor="end">1500</text>
<line x1="185.6" y1="208.5" x2="186.8" y2="208.5" stroke="#262626" stroke-width="0.7"/>
<text transform="translate(184.10 225.30) scale(0.1)" font-size="68.00" text-anchor="end">1000</text>
<line x1="185.6" y1="223.0" x2="186.8" y2="223.0" stroke="#262626" stroke-width="0.7"/>
<text transform="translate(184.10 239.80) scale(0.1)" font-size="68.00" text-anchor="end">500</text>
<line x1="185.6" y1="237.5" x2="186.8" y2="237.5" stroke="#262626" stroke-width="0.7"/>
<text transform="translate(184.10 254.30) scale(0.1)" font-size="68.00" text-anchor="end">0</text>
<line x1="185.6" y1="252.0" x2="186.8" y2="252.0" stroke="#262626" stroke-width="0.7"/>
<text transform="translate(184.10 268.80) scale(0.1)" font-size="68.00" text-anchor="end">-500</text>
<line x1="185.6" y1="266.5" x2="186.8" y2="266.5" stroke="#262626" stroke-width="0.7"/>
<text transform="translate(185.60 273.60) scale(0.1)" font-size="68.00" text-anchor="middle">0</text>
<line x1="185.6" y1="266.5" x2="185.6" y2="265.3" stroke="#262626" stroke-width="0.7"/>
<text transform="translate(217.50 273.60) scale(0.1)" font-size="68.00" text-anchor="middle">1000</text>
<line x1="217.5" y1="266.5" x2="217.5" y2="265.3" stroke="#262626" stroke-width="0.7"/>
<text transform="translate(249.40 273.60) scale(0.1)" font-size="68.00" text-anchor="middle">2000</text>
<line x1="249.4" y1="266.5" x2="249.4" y2="265.3" stroke="#262626" stroke-width="0.7"/>
<text transform="translate(281.30 273.60) scale(0.1)" font-size="68.00" text-anchor="middle">3000</text>
<line x1="281.3" y1="266.5" x2="281.3" y2="265.3" stroke="#262626" stroke-width="0.7"/>
<text transform="translate(168.60 230.55) rotate(-90) scale(0.1)" font-size="82.00" text-anchor="middle">Reflectance</text>
<clipPath id="cpb3"><rect x="185.4" y="279.6" width="96.0" height="72.6"/></clipPath>
<g clip-path="url(#cpb3)">
<path d="M197.5 344.4 L198.0 338.4 L199.1 330.8 L200.4 324.0 L201.8 319.8 L203.1 317.3 L204.8 316.4 L206.7 315.7 L207.7 312.9 L209.1 307.3 L210.6 305.4 L212.4 304.1 L214.8 303.0 L216.7 301.2 L217.5 299.8 L219.1 300.2 L220.4 299.3 L222.3 298.3 L224.1 297.4 L225.7 296.8 L226.5 298.0 L227.5 301.7 L228.4 305.4 L229.4 309.1 L230.2 306.4 L231.8 302.2 L233.6 299.8 L235.3 299.5 L237.7 297.8 L239.4 296.4 L240.4 296.9 L241.6 300.3 L243.3 306.3 L245.0 311.3 L246.7 313.9 L247.9 313.0 L249.2 308.8 L250.9 305.4 L252.6 303.7 L254.3 303.4 L256.0 304.1 L257.7 305.1 L259.4 307.1 L261.1 310.2 L262.8 313.5 L264.5 317.3 L265.3 319.8" fill="none" stroke="#ff3040" stroke-width="1.05" stroke-linejoin="round"/>
<path d="M197.5 340.1 L198.4 334.2 L199.7 327.4 L201.4 321.5 L203.1 318.1 L204.8 316.4 L206.5 315.9 L207.2 314.9 L208.2 310.2 L209.1 302.5 L210.1 298.3 L211.4 295.6 L213.3 293.6 L215.2 292.9 L216.7 291.0 L218.0 287.1 L219.9 286.3 L222.3 285.6 L224.1 284.6 L225.3 284.1 L226.5 285.4 L227.5 291.2 L228.4 298.5 L229.4 302.5 L230.2 301.0 L232.1 295.9 L234.0 294.1 L236.5 291.7 L238.7 290.0 L239.9 289.7 L241.1 291.0 L242.4 295.8 L244.1 302.0 L245.8 308.8 L247.2 312.2 L248.4 310.2 L249.6 306.4 L251.2 303.4 L252.9 302.2 L254.6 301.7 L256.3 302.2 L258.0 303.4 L259.7 305.4 L261.4 308.5 L263.1 312.2 L264.8 316.9 L265.3 319.5" fill="none" stroke="#22b54c" stroke-width="1.05" stroke-linejoin="round"/>
<path d="M197.5 340.1 L198.4 334.2 L199.7 327.4 L201.4 321.5 L203.1 318.1 L204.8 316.4 L206.5 315.9 L207.2 314.9 L208.2 310.2 L209.1 302.5 L210.1 298.3 L211.4 295.6 L213.3 293.7 L215.2 293.2 L216.7 291.4 L218.0 287.5 L219.9 286.6 L222.3 285.8 L224.1 284.7 L225.3 284.2 L226.5 285.6 L227.5 291.4 L228.4 298.8 L229.4 303.0 L230.2 301.7 L232.1 296.4 L234.0 294.6 L236.5 292.2 L238.7 290.5 L239.9 290.2 L241.1 291.5 L242.4 296.1 L244.1 302.0 L245.8 308.8 L247.2 312.5 L248.4 310.5 L249.6 306.8 L251.2 303.7 L252.9 302.5 L254.6 302.0 L256.3 302.5 L258.0 303.7 L259.7 305.8 L261.4 308.8 L263.1 312.5 L264.8 317.3 L265.3 319.8" fill="none" stroke="#1e88cc" stroke-width="1.05" stroke-linejoin="round"/>
</g>
<rect x="185.4" y="279.6" width="96.0" height="72.6" fill="none" stroke="#262626" stroke-width="0.9"/>
<text transform="translate(183.90 289.28) scale(0.1)" font-size="68.00" text-anchor="end">2000</text>
<line x1="185.4" y1="287.0" x2="186.6" y2="287.0" stroke="#262626" stroke-width="0.7"/>
<text transform="translate(183.90 302.31) scale(0.1)" font-size="68.00" text-anchor="end">1500</text>
<line x1="185.4" y1="300.0" x2="186.6" y2="300.0" stroke="#262626" stroke-width="0.7"/>
<text transform="translate(183.90 315.34) scale(0.1)" font-size="68.00" text-anchor="end">1000</text>
<line x1="185.4" y1="313.0" x2="186.6" y2="313.0" stroke="#262626" stroke-width="0.7"/>
<text transform="translate(183.90 328.37) scale(0.1)" font-size="68.00" text-anchor="end">500</text>
<line x1="185.4" y1="326.1" x2="186.6" y2="326.1" stroke="#262626" stroke-width="0.7"/>
<text transform="translate(183.90 341.40) scale(0.1)" font-size="68.00" text-anchor="end">0</text>
<line x1="185.4" y1="339.1" x2="186.6" y2="339.1" stroke="#262626" stroke-width="0.7"/>
<text transform="translate(183.90 354.43) scale(0.1)" font-size="68.00" text-anchor="end">-500</text>
<line x1="185.4" y1="352.1" x2="186.6" y2="352.1" stroke="#262626" stroke-width="0.7"/>
<text transform="translate(185.40 359.00) scale(0.1)" font-size="68.00" text-anchor="middle">0</text>
<line x1="185.4" y1="352.2" x2="185.4" y2="351.0" stroke="#262626" stroke-width="0.7"/>
<text transform="translate(217.40 359.00) scale(0.1)" font-size="68.00" text-anchor="middle">1000</text>
<line x1="217.4" y1="352.2" x2="217.4" y2="351.0" stroke="#262626" stroke-width="0.7"/>
<text transform="translate(249.40 359.00) scale(0.1)" font-size="68.00" text-anchor="middle">2000</text>
<line x1="249.4" y1="352.2" x2="249.4" y2="351.0" stroke="#262626" stroke-width="0.7"/>
<text transform="translate(281.40 359.00) scale(0.1)" font-size="68.00" text-anchor="middle">3000</text>
<line x1="281.4" y1="352.2" x2="281.4" y2="351.0" stroke="#262626" stroke-width="0.7"/>
<text transform="translate(168.40 316.20) rotate(-90) scale(0.1)" font-size="82.00" text-anchor="middle">Reflectance</text>
<clipPath id="cpb4"><rect x="185.5" y="365.5" width="95.7" height="72.5"/></clipPath>
<g clip-path="url(#cpb4)">
<path d="M199.1 429.4 L199.4 423.4 L200.3 415.8 L201.4 409.4 L202.8 404.0 L204.1 400.6 L205.8 399.2 L207.5 398.5 L208.7 395.2 L209.9 390.4 L211.3 387.0 L213.0 384.5 L214.5 382.8 L216.1 381.6 L217.3 379.9 L218.4 378.6 L219.5 379.4 L221.1 378.6 L222.7 377.2 L224.2 376.2 L225.8 375.5 L226.8 376.9 L227.7 381.9 L228.5 386.2 L229.4 388.7 L230.2 385.3 L231.4 381.9 L233.6 379.9 L236.0 378.2 L238.2 377.2 L239.9 376.9 L241.1 378.2 L242.4 383.6 L244.1 389.6 L245.8 394.6 L247.2 396.8 L248.4 394.6 L249.6 390.4 L251.2 386.7 L252.9 385.0 L254.6 384.5 L256.3 385.0 L258.0 385.3 L259.7 387.4 L261.4 390.4 L263.1 394.6 L264.8 399.7 L265.3 401.4" fill="none" stroke="#ff3040" stroke-width="1.05" stroke-linejoin="round"/>
<path d="M199.1 423.4 L200.3 415.8 L201.4 409.4 L202.8 404.3 L204.1 400.6 L205.8 399.7 L207.5 398.5 L208.7 393.8 L209.9 388.7 L211.3 384.5 L213.0 381.9 L214.5 380.2 L216.1 378.6 L217.3 376.9 L218.4 375.5 L220.0 375.2 L221.6 374.3 L223.1 373.5 L224.7 372.6 L225.8 371.8 L226.8 373.5 L227.7 379.4 L228.5 384.5 L229.4 386.7 L230.2 383.6 L231.4 380.2 L233.6 377.7 L236.0 376.0 L238.2 374.3 L239.9 373.5 L241.1 375.2 L242.4 381.1 L244.1 387.9 L245.8 393.0 L247.2 394.6 L248.4 392.1 L249.6 387.9 L251.2 384.5 L252.9 382.8 L254.6 382.4 L256.3 383.3 L258.0 384.0 L259.7 385.7 L261.4 388.7 L263.1 393.0 L264.8 398.9 L265.3 401.4" fill="none" stroke="#22b54c" stroke-width="1.05" stroke-linejoin="round"/>
<path d="M199.1 423.4 L200.3 416.7 L201.4 410.7 L202.8 406.5 L204.1 404.3 L205.8 403.6 L207.5 403.1 L208.7 398.9 L209.9 393.8 L211.3 389.6 L213.0 387.0 L214.5 385.3 L216.1 384.0 L217.3 382.8 L218.4 381.1 L219.5 380.6 L221.1 379.9 L222.7 378.9 L224.2 378.2 L225.8 377.7 L226.8 379.4 L227.7 384.5 L228.5 389.6 L229.4 391.8 L230.2 388.7 L231.4 384.5 L233.6 382.8 L236.0 381.1 L238.2 379.9 L239.9 379.4 L241.1 381.1 L242.4 386.2 L244.1 392.1 L245.8 395.5 L247.2 397.2 L248.4 395.2 L249.6 392.1 L251.2 389.6 L252.9 388.7 L254.6 388.7 L256.3 389.1 L258.0 390.1 L259.7 391.8 L261.4 394.6 L263.1 398.0 L264.8 403.1 L265.3 404.8" fill="none" stroke="#1e88cc" stroke-width="1.05" stroke-linejoin="round"/>
</g>
<rect x="185.5" y="365.5" width="95.7" height="72.5" fill="none" stroke="#262626" stroke-width="0.9"/>
<text transform="translate(184.00 367.80) scale(0.1)" font-size="68.00" text-anchor="end">2000</text>
<line x1="185.5" y1="365.5" x2="186.7" y2="365.5" stroke="#262626" stroke-width="0.7"/>
<text transform="translate(184.00 382.30) scale(0.1)" font-size="68.00" text-anchor="end">1500</text>
<line x1="185.5" y1="380.0" x2="186.7" y2="380.0" stroke="#262626" stroke-width="0.7"/>
<text transform="translate(184.00 396.80) scale(0.1)" font-size="68.00" text-anchor="end">1000</text>
<line x1="185.5" y1="394.5" x2="186.7" y2="394.5" stroke="#262626" stroke-width="0.7"/>
<text transform="translate(184.00 411.30) scale(0.1)" font-size="68.00" text-anchor="end">500</text>
<line x1="185.5" y1="409.0" x2="186.7" y2="409.0" stroke="#262626" stroke-width="0.7"/>
<text transform="translate(184.00 425.80) scale(0.1)" font-size="68.00" text-anchor="end">0</text>
<line x1="185.5" y1="423.5" x2="186.7" y2="423.5" stroke="#262626" stroke-width="0.7"/>
<text transform="translate(184.00 440.30) scale(0.1)" font-size="68.00" text-anchor="end">-500</text>
<line x1="185.5" y1="438.0" x2="186.7" y2="438.0" stroke="#262626" stroke-width="0.7"/>
<text transform="translate(185.50 444.70) scale(0.1)" font-size="68.00" text-anchor="middle">0</text>
<line x1="185.5" y1="438.0" x2="185.5" y2="436.8" stroke="#262626" stroke-width="0.7"/>
<text transform="translate(217.40 444.70) scale(0.1)" font-size="68.00" text-anchor="middle">1000</text>
<line x1="217.4" y1="438.0" x2="217.4" y2="436.8" stroke="#262626" stroke-width="0.7"/>
<text transform="translate(249.30 444.70) scale(0.1)" font-size="68.00" text-anchor="middle">2000</text>
<line x1="249.3" y1="438.0" x2="249.3" y2="436.8" stroke="#262626" stroke-width="0.7"/>
<text transform="translate(281.20 444.70) scale(0.1)" font-size="68.00" text-anchor="middle">3000</text>
<line x1="281.2" y1="438.0" x2="281.2" y2="436.8" stroke="#262626" stroke-width="0.7"/>
<text transform="translate(168.50 402.05) rotate(-90) scale(0.1)" font-size="82.00" text-anchor="middle">Reflectance</text>
<clipPath id="cpb5"><rect x="185.6" y="450.8" width="95.6" height="72.7"/></clipPath>
<g clip-path="url(#cpb5)">
<path d="M198.9 515.4 L199.2 509.4 L200.1 501.8 L201.3 494.7 L202.6 489.6 L204.0 485.7 L205.7 484.5 L207.4 484.0 L208.6 480.6 L209.7 476.4 L211.1 472.7 L212.8 470.0 L214.5 468.3 L216.2 467.1 L217.5 465.4 L218.7 464.2 L219.9 464.6 L221.6 464.2 L223.3 463.2 L225.0 462.0 L226.3 461.2 L227.4 462.0 L228.4 467.1 L229.4 471.3 L230.4 473.9 L231.4 470.0 L232.7 466.6 L234.6 464.9 L236.5 463.7 L238.6 462.5 L240.2 461.5 L241.3 462.5 L242.6 467.9 L244.2 473.9 L245.8 479.0 L247.2 481.5 L248.4 479.5 L249.6 475.6 L251.2 471.7 L252.9 469.3 L254.6 469.3 L256.3 470.5 L258.0 470.5 L259.7 472.2 L261.4 475.6 L263.1 479.8 L264.8 484.9 L265.3 487.4" fill="none" stroke="#ff3040" stroke-width="1.05" stroke-linejoin="round"/>
<path d="M198.9 509.4 L200.1 502.7 L201.3 495.9 L202.6 490.8 L204.0 487.4 L205.7 486.2 L207.4 485.7 L208.6 481.5 L209.7 476.4 L211.1 472.7 L212.8 470.0 L214.5 468.3 L216.2 467.1 L217.5 465.4 L218.7 464.6 L220.4 464.2 L222.1 463.7 L223.8 462.5 L225.5 461.5 L226.7 461.2 L227.5 463.7 L228.4 469.6 L229.4 477.3 L230.4 485.7 L231.1 478.1 L231.7 470.5 L233.0 467.9 L234.9 466.6 L237.0 465.4 L239.1 464.6 L240.2 464.2 L241.3 465.9 L242.6 470.5 L244.2 476.4 L245.8 480.6 L247.2 481.8 L248.4 479.8 L249.6 476.4 L251.2 473.9 L252.9 472.2 L254.6 472.2 L256.3 472.7 L258.0 473.0 L259.7 474.7 L261.4 478.1 L263.1 482.3 L264.8 487.4 L265.3 489.6" fill="none" stroke="#22b54c" stroke-width="1.05" stroke-linejoin="round"/>
<path d="M198.9 511.1 L200.1 503.5 L201.3 497.1 L202.6 492.5 L204.0 489.1 L205.7 487.9 L207.4 487.4 L208.6 483.2 L209.7 478.1 L211.1 473.9 L212.8 471.3 L214.5 470.0 L216.2 468.8 L217.5 467.1 L218.7 465.4 L220.4 464.6 L222.1 463.7 L223.8 462.5 L225.5 461.5 L226.7 461.2 L227.5 463.7 L228.4 468.8 L229.4 474.7 L230.4 477.3 L231.4 471.3 L232.7 468.8 L234.9 467.1 L237.0 465.9 L239.1 464.9 L240.2 464.6 L241.3 466.2 L242.6 471.0 L244.2 476.4 L245.8 480.6 L247.2 482.3 L248.4 480.1 L249.6 476.8 L251.2 474.4 L252.9 473.4 L254.6 473.4 L256.3 473.9 L258.0 474.4 L259.7 476.1 L261.4 479.0 L263.1 483.2 L264.8 487.9 L265.3 490.3" fill="none" stroke="#1e88cc" stroke-width="1.05" stroke-linejoin="round"/>
</g>
<rect x="185.6" y="450.8" width="95.6" height="72.7" fill="none" stroke="#262626" stroke-width="0.9"/>
<text transform="translate(184.10 453.10) scale(0.1)" font-size="68.00" text-anchor="end">2000</text>
<line x1="185.6" y1="450.8" x2="186.8" y2="450.8" stroke="#262626" stroke-width="0.7"/>
<text transform="translate(184.10 467.64) scale(0.1)" font-size="68.00" text-anchor="end">1500</text>
<line x1="185.6" y1="465.3" x2="186.8" y2="465.3" stroke="#262626" stroke-width="0.7"/>
<text transform="translate(184.10 482.18) scale(0.1)" font-size="68.00" text-anchor="end">1000</text>
<line x1="185.6" y1="479.9" x2="186.8" y2="479.9" stroke="#262626" stroke-width="0.7"/>
<text transform="translate(184.10 496.72) scale(0.1)" font-size="68.00" text-anchor="end">500</text>
<line x1="185.6" y1="494.4" x2="186.8" y2="494.4" stroke="#262626" stroke-width="0.7"/>
<text transform="translate(184.10 511.26) scale(0.1)" font-size="68.00" text-anchor="end">0</text>
<line x1="185.6" y1="509.0" x2="186.8" y2="509.0" stroke="#262626" stroke-width="0.7"/>
<text transform="translate(184.10 525.80) scale(0.1)" font-size="68.00" text-anchor="end">-500</text>
<line x1="185.6" y1="523.5" x2="186.8" y2="523.5" stroke="#262626" stroke-width="0.7"/>
<text transform="translate(185.60 530.00) scale(0.1)" font-size="68.00" text-anchor="middle">0</text>
<line x1="185.6" y1="523.5" x2="185.6" y2="522.3" stroke="#262626" stroke-width="0.7"/>
<text transform="translate(217.47 530.00) scale(0.1)" font-size="68.00" text-anchor="middle">1000</text>
<line x1="217.5" y1="523.5" x2="217.5" y2="522.3" stroke="#262626" stroke-width="0.7"/>
<text transform="translate(249.33 530.00) scale(0.1)" font-size="68.00" text-anchor="middle">2000</text>
<line x1="249.3" y1="523.5" x2="249.3" y2="522.3" stroke="#262626" stroke-width="0.7"/>
<text transform="translate(281.20 530.00) scale(0.1)" font-size="68.00" text-anchor="middle">3000</text>
<line x1="281.2" y1="523.5" x2="281.2" y2="522.3" stroke="#262626" stroke-width="0.7"/>
<text transform="translate(168.60 487.45) rotate(-90) scale(0.1)" font-size="82.00" text-anchor="middle">Reflectance</text>
<clipPath id="cpc0"><rect x="318.4" y="22.6" width="95.2" height="72.8"/></clipPath>
<g clip-path="url(#cpc0)">
<path d="M330.5 77.2 L331.0 73.0 L332.2 67.9 L333.9 64.5 L335.6 62.3 L337.3 61.1 L339.0 61.1 L340.7 59.4 L341.7 56.9 L343.1 54.0 L344.4 52.1 L346.3 50.6 L347.8 50.3 L349.2 48.4 L350.5 46.4 L352.1 45.5 L353.4 45.0 L354.8 44.2 L356.3 43.2 L358.0 42.3 L359.0 44.5 L360.0 49.3 L360.9 55.0 L361.9 59.6 L362.7 58.7 L363.7 53.2 L365.1 49.3 L366.6 47.4 L369.0 47.6 L371.2 48.1 L372.9 48.4 L374.6 49.8 L376.3 53.5 L378.0 58.6 L379.7 62.3 L380.9 61.1 L382.2 56.9 L383.9 54.3 L385.9 53.8 L387.6 54.3 L389.3 55.5 L391.0 56.9 L392.7 58.9 L394.4 61.6 L396.1 64.5 L397.5 68.4" fill="none" stroke="#ff3040" stroke-width="1.05" stroke-linejoin="round"/>
<path d="M331.0 93.3 L331.7 89.9 L332.7 84.8 L333.9 79.8 L335.1 76.4 L336.5 75.5 L337.8 74.7 L339.0 73.8 L339.9 70.4 L340.7 63.7 L342.1 59.6 L343.6 56.9 L344.9 55.4 L346.8 55.0 L348.3 54.0 L349.7 51.1 L351.0 48.4 L352.1 46.9 L353.4 46.0 L354.8 44.5 L356.3 42.7 L357.3 40.8 L358.0 40.3 L358.7 42.3 L359.5 46.5 L360.5 53.2 L361.4 58.7 L362.4 61.6 L363.7 60.6 L365.1 58.7 L366.6 57.7 L368.7 57.7 L371.2 56.5 L372.9 56.9 L374.6 58.9 L376.3 62.8 L378.0 67.4 L379.3 70.4 L380.5 71.3 L381.9 68.7 L383.6 65.7 L385.6 63.7 L387.6 62.8 L389.3 62.8 L391.0 63.7 L392.7 65.4 L394.4 68.4 L396.1 72.5 L397.5 78.9" fill="none" stroke="#22b54c" stroke-width="1.05" stroke-linejoin="round"/>
<path d="M331.0 92.5 L331.7 89.1 L332.7 84.0 L333.9 78.9 L335.1 75.5 L336.5 73.5 L337.8 73.0 L339.0 72.1 L339.9 67.0 L340.7 56.9 L341.9 50.1 L343.1 43.7 L344.4 39.4 L346.3 37.1 L347.8 36.0 L349.2 33.3 L350.5 31.0 L352.1 29.1 L353.4 28.4 L355.3 27.2 L356.8 25.9 L358.0 25.2 L358.8 27.2 L360.0 32.3 L360.9 40.8 L361.9 49.3 L362.6 53.2 L363.6 47.4 L364.8 40.8 L366.1 37.6 L368.3 34.0 L370.4 31.8 L372.0 32.3 L373.4 34.0 L374.6 39.1 L376.3 48.4 L378.0 58.6 L379.2 65.4 L380.2 66.7 L381.4 62.0 L382.6 56.9 L384.2 52.6 L385.9 50.4 L387.6 49.3 L389.3 50.4 L391.0 52.6 L392.7 56.0 L394.4 61.1 L396.1 67.0 L397.5 73.8" fill="none" stroke="#1e88cc" stroke-width="1.05" stroke-linejoin="round"/>
</g>
<rect x="318.4" y="22.6" width="95.2" height="72.8" fill="none" stroke="#262626" stroke-width="0.9"/>
<text transform="translate(316.90 32.90) scale(0.1)" font-size="68.00" text-anchor="end">2500</text>
<line x1="318.4" y1="30.6" x2="319.6" y2="30.6" stroke="#262626" stroke-width="0.7"/>
<text transform="translate(316.90 44.70) scale(0.1)" font-size="68.00" text-anchor="end">2000</text>
<line x1="318.4" y1="42.4" x2="319.6" y2="42.4" stroke="#262626" stroke-width="0.7"/>
<text transform="translate(316.90 56.50) scale(0.1)" font-size="68.00" text-anchor="end">1500</text>
<line x1="318.4" y1="54.2" x2="319.6" y2="54.2" stroke="#262626" stroke-width="0.7"/>
<text transform="translate(316.90 68.30) scale(0.1)" font-size="68.00" text-anchor="end">1000</text>
<line x1="318.4" y1="66.0" x2="319.6" y2="66.0" stroke="#262626" stroke-width="0.7"/>
<text transform="translate(316.90 80.10) scale(0.1)" font-size="68.00" text-anchor="end">500</text>
<line x1="318.4" y1="77.8" x2="319.6" y2="77.8" stroke="#262626" stroke-width="0.7"/>
<text transform="translate(316.90 91.90) scale(0.1)" font-size="68.00" text-anchor="end">0</text>
<line x1="318.4" y1="89.6" x2="319.6" y2="89.6" stroke="#262626" stroke-width="0.7"/>
<text transform="translate(318.40 101.70) scale(0.1)" font-size="68.00" text-anchor="middle">0</text>
<line x1="318.4" y1="95.4" x2="318.4" y2="94.2" stroke="#262626" stroke-width="0.7"/>
<text transform="translate(350.13 101.70) scale(0.1)" font-size="68.00" text-anchor="middle">1000</text>
<line x1="350.1" y1="95.4" x2="350.1" y2="94.2" stroke="#262626" stroke-width="0.7"/>
<text transform="translate(381.87 101.70) scale(0.1)" font-size="68.00" text-anchor="middle">2000</text>
<line x1="381.9" y1="95.4" x2="381.9" y2="94.2" stroke="#262626" stroke-width="0.7"/>
<text transform="translate(413.60 101.70) scale(0.1)" font-size="68.00" text-anchor="middle">3000</text>
<line x1="413.6" y1="95.4" x2="413.6" y2="94.2" stroke="#262626" stroke-width="0.7"/>
<text transform="translate(301.40 59.30) rotate(-90) scale(0.1)" font-size="82.00" text-anchor="middle">Reflectance</text>
<clipPath id="cpc1"><rect x="317.4" y="108.3" width="95.1" height="72.7"/></clipPath>
<g clip-path="url(#cpc1)">
<path d="M329.5 158.8 L330.0 154.6 L331.2 148.7 L332.9 143.6 L334.6 140.2 L336.3 138.5 L338.0 138.2 L339.7 137.6 L340.9 135.1 L342.2 130.9 L343.9 127.0 L345.6 124.9 L347.3 124.1 L349.0 122.4 L350.4 119.9 L352.1 119.0 L353.8 117.8 L355.5 116.8 L357.2 115.6 L358.2 116.5 L359.2 121.6 L360.0 130.0 L360.9 136.8 L361.7 135.1 L362.6 128.3 L363.9 123.2 L366.0 121.6 L368.5 121.2 L370.7 121.6 L372.4 122.4 L374.1 125.8 L375.8 130.9 L377.5 136.0 L378.7 138.5 L379.9 136.8 L381.2 131.7 L382.9 129.2 L384.9 128.7 L386.6 129.2 L388.3 130.0 L390.0 130.9 L391.7 133.4 L393.4 136.8 L395.1 141.9 L396.5 147.8" fill="none" stroke="#ff3040" stroke-width="1.05" stroke-linejoin="round"/>
<path d="M329.5 168.1 L330.0 163.1 L331.2 158.8 L332.9 156.3 L334.6 154.6 L336.3 153.7 L338.0 152.9 L339.7 152.4 L340.6 148.7 L340.9 138.5 L341.2 152.0 L342.2 148.7 L343.6 146.1 L344.8 142.7 L346.0 139.3 L346.7 137.6 L347.3 143.6 L348.0 138.5 L348.7 137.6 L349.4 141.9 L349.9 136.8 L350.7 136.5 L352.1 137.6 L353.3 137.1 L354.4 136.5 L355.8 136.0 L357.2 136.0 L358.3 137.1 L359.2 140.2 L360.0 146.1 L360.9 152.9 L361.7 149.5 L362.9 141.9 L364.6 140.2 L366.8 139.8 L369.4 139.3 L371.4 139.0 L372.7 140.2 L374.4 143.6 L376.1 148.7 L377.8 151.7 L379.5 150.4 L381.2 148.3 L382.9 147.3 L384.9 147.3 L386.6 147.8 L388.3 148.3 L390.0 149.5 L391.7 151.2 L393.9 152.9 L395.1 155.4 L396.1 163.9 L396.5 169.0" fill="none" stroke="#22b54c" stroke-width="1.05" stroke-linejoin="round"/>
<path d="M329.5 174.9 L330.0 169.0 L331.2 162.2 L332.9 158.8 L334.6 157.1 L336.3 156.3 L338.0 155.4 L339.7 155.1 L340.6 157.1 L341.4 158.8 L341.9 151.2 L343.1 149.5 L344.3 148.7 L345.3 146.6 L346.0 144.4 L346.7 148.7 L347.3 141.9 L348.0 147.0 L348.7 144.4 L349.5 137.6 L349.9 155.4 L350.4 143.6 L351.6 142.7 L353.3 143.9 L355.0 143.6 L356.6 143.9 L358.3 145.3 L359.5 151.2 L360.5 158.8 L361.2 165.6 L361.9 155.4 L362.9 145.3 L364.6 144.4 L366.8 144.4 L369.4 144.4 L371.4 144.9 L372.7 146.1 L374.4 150.0 L376.1 153.7 L377.8 156.8 L379.5 153.7 L381.2 151.2 L382.9 150.4 L384.9 150.4 L386.6 151.2 L388.3 152.0 L390.0 153.4 L392.2 155.4 L393.9 157.1 L395.6 160.5 L396.5 166.4" fill="none" stroke="#1e88cc" stroke-width="1.05" stroke-linejoin="round"/>
</g>
<rect x="317.4" y="108.3" width="95.1" height="72.7" fill="none" stroke="#262626" stroke-width="0.9"/>
<text transform="translate(315.90 117.87) scale(0.1)" font-size="68.00" text-anchor="end">2000</text>
<line x1="317.4" y1="115.6" x2="318.6" y2="115.6" stroke="#262626" stroke-width="0.7"/>
<text transform="translate(315.90 132.41) scale(0.1)" font-size="68.00" text-anchor="end">1500</text>
<line x1="317.4" y1="130.1" x2="318.6" y2="130.1" stroke="#262626" stroke-width="0.7"/>
<text transform="translate(315.90 146.95) scale(0.1)" font-size="68.00" text-anchor="end">1000</text>
<line x1="317.4" y1="144.6" x2="318.6" y2="144.6" stroke="#262626" stroke-width="0.7"/>
<text transform="translate(315.90 161.49) scale(0.1)" font-size="68.00" text-anchor="end">500</text>
<line x1="317.4" y1="159.2" x2="318.6" y2="159.2" stroke="#262626" stroke-width="0.7"/>
<text transform="translate(315.90 176.03) scale(0.1)" font-size="68.00" text-anchor="end">0</text>
<line x1="317.4" y1="173.7" x2="318.6" y2="173.7" stroke="#262626" stroke-width="0.7"/>
<text transform="translate(317.40 187.60) scale(0.1)" font-size="68.00" text-anchor="middle">0</text>
<line x1="317.4" y1="181.0" x2="317.4" y2="179.8" stroke="#262626" stroke-width="0.7"/>
<text transform="translate(349.10 187.60) scale(0.1)" font-size="68.00" text-anchor="middle">1000</text>
<line x1="349.1" y1="181.0" x2="349.1" y2="179.8" stroke="#262626" stroke-width="0.7"/>
<text transform="translate(380.80 187.60) scale(0.1)" font-size="68.00" text-anchor="middle">2000</text>
<line x1="380.8" y1="181.0" x2="380.8" y2="179.8" stroke="#262626" stroke-width="0.7"/>
<text transform="translate(412.50 187.60) scale(0.1)" font-size="68.00" text-anchor="middle">3000</text>
<line x1="412.5" y1="181.0" x2="412.5" y2="179.8" stroke="#262626" stroke-width="0.7"/>
<text transform="translate(300.40 144.95) rotate(-90) scale(0.1)" font-size="82.00" text-anchor="middle">Reflectance</text>
<clipPath id="cpc2"><rect x="318.3" y="194.0" width="95.2" height="72.5"/></clipPath>
<g clip-path="url(#cpc2)">
<path d="M330.5 244.0 L331.0 239.7 L332.2 233.8 L333.4 229.6 L334.8 227.0 L336.5 225.3 L338.2 224.5 L339.9 224.2 L341.6 222.5 L342.9 219.4 L344.1 215.2 L345.8 212.6 L347.5 211.3 L349.2 210.1 L350.4 207.6 L351.7 205.5 L353.4 204.5 L355.1 203.3 L356.8 202.1 L358.2 201.6 L359.2 202.8 L360.2 208.4 L361.0 216.0 L361.9 222.8 L362.7 219.4 L363.9 211.8 L365.3 208.4 L367.3 207.6 L369.5 207.2 L371.7 207.2 L373.4 207.9 L375.1 211.8 L376.8 216.9 L378.5 221.4 L379.7 223.6 L380.9 222.0 L382.2 217.7 L383.9 215.2 L385.9 214.7 L387.6 215.2 L389.3 216.0 L391.0 217.7 L392.7 219.8 L394.4 222.8 L396.1 227.0 L397.5 233.0" fill="none" stroke="#ff3040" stroke-width="1.05" stroke-linejoin="round"/>
<path d="M330.5 259.2 L331.4 254.6 L332.7 243.1 L333.9 233.0 L335.1 223.6 L336.1 217.4 L336.8 222.0 L337.8 228.7 L339.0 235.5 L340.2 243.1 L341.2 252.4 L341.9 256.7 L342.9 255.0 L344.1 254.1 L345.3 255.8 L346.6 254.1 L348.0 254.1 L349.2 253.0 L350.4 251.6 L351.0 249.9 L351.7 251.6 L352.6 255.0 L353.8 255.8 L355.1 254.6 L356.5 255.3 L357.6 253.3 L358.5 255.8 L359.3 253.3 L360.2 254.6 L361.0 252.4 L361.9 251.3 L362.7 253.3 L363.9 254.6 L365.3 255.3 L367.8 255.8 L370.4 255.8 L372.9 255.8 L375.1 254.1 L375.9 252.4 L377.1 253.3 L378.5 253.0 L379.7 253.6 L381.4 254.6 L383.1 255.3 L385.6 255.8 L388.1 256.3 L390.7 256.3 L393.2 256.3 L395.8 255.0 L397.1 252.4 L397.5 255.0" fill="none" stroke="#22b54c" stroke-width="1.05" stroke-linejoin="round"/>
<path d="M330.5 259.2 L331.4 255.0 L332.7 243.1 L333.9 233.8 L335.1 225.3 L336.1 218.6 L336.8 222.8 L337.8 228.7 L339.0 235.5 L340.2 243.1 L341.2 251.6 L341.9 255.8 L342.9 254.1 L344.1 253.3 L345.3 254.6 L346.6 253.3 L348.0 252.4 L349.2 251.6 L350.4 249.1 L351.0 242.3 L351.7 249.9 L352.6 253.3 L353.8 254.1 L355.1 253.3 L356.5 254.1 L357.6 253.0 L358.5 254.1 L359.3 252.4 L360.2 253.3 L361.0 251.3 L361.9 250.8 L362.7 252.4 L363.9 253.3 L365.3 254.6 L367.8 255.3 L370.4 255.3 L372.9 255.3 L375.4 255.0 L378.0 254.6 L380.5 254.1 L383.1 255.0 L385.6 255.5 L388.1 255.8 L390.7 255.8 L393.2 255.8 L395.8 255.5 L397.5 255.0" fill="none" stroke="#1e88cc" stroke-width="1.05" stroke-linejoin="round"/>
</g>
<rect x="318.3" y="194.0" width="95.2" height="72.5" fill="none" stroke="#262626" stroke-width="0.9"/>
<text transform="translate(316.80 203.55) scale(0.1)" font-size="68.00" text-anchor="end">2000</text>
<line x1="318.3" y1="201.2" x2="319.5" y2="201.2" stroke="#262626" stroke-width="0.7"/>
<text transform="translate(316.80 218.05) scale(0.1)" font-size="68.00" text-anchor="end">1500</text>
<line x1="318.3" y1="215.8" x2="319.5" y2="215.8" stroke="#262626" stroke-width="0.7"/>
<text transform="translate(316.80 232.55) scale(0.1)" font-size="68.00" text-anchor="end">1000</text>
<line x1="318.3" y1="230.2" x2="319.5" y2="230.2" stroke="#262626" stroke-width="0.7"/>
<text transform="translate(316.80 247.05) scale(0.1)" font-size="68.00" text-anchor="end">500</text>
<line x1="318.3" y1="244.8" x2="319.5" y2="244.8" stroke="#262626" stroke-width="0.7"/>
<text transform="translate(316.80 261.55) scale(0.1)" font-size="68.00" text-anchor="end">0</text>
<line x1="318.3" y1="259.2" x2="319.5" y2="259.2" stroke="#262626" stroke-width="0.7"/>
<text transform="translate(318.30 273.60) scale(0.1)" font-size="68.00" text-anchor="middle">0</text>
<line x1="318.3" y1="266.5" x2="318.3" y2="265.3" stroke="#262626" stroke-width="0.7"/>
<text transform="translate(350.03 273.60) scale(0.1)" font-size="68.00" text-anchor="middle">1000</text>
<line x1="350.0" y1="266.5" x2="350.0" y2="265.3" stroke="#262626" stroke-width="0.7"/>
<text transform="translate(381.77 273.60) scale(0.1)" font-size="68.00" text-anchor="middle">2000</text>
<line x1="381.8" y1="266.5" x2="381.8" y2="265.3" stroke="#262626" stroke-width="0.7"/>
<text transform="translate(413.50 273.60) scale(0.1)" font-size="68.00" text-anchor="middle">3000</text>
<line x1="413.5" y1="266.5" x2="413.5" y2="265.3" stroke="#262626" stroke-width="0.7"/>
<text transform="translate(301.30 230.55) rotate(-90) scale(0.1)" font-size="82.00" text-anchor="middle">Reflectance</text>
<clipPath id="cpc3"><rect x="318.9" y="279.6" width="96.6" height="72.6"/></clipPath>
<g clip-path="url(#cpc3)">
<path d="M331.5 330.0 L332.0 325.7 L333.2 319.0 L334.4 313.9 L335.8 310.8 L337.5 309.6 L339.2 309.6 L340.9 310.2 L342.2 307.4 L343.4 302.9 L345.1 299.5 L346.8 297.8 L348.5 296.6 L350.2 294.9 L351.4 292.2 L352.7 291.0 L354.4 289.8 L356.1 288.5 L357.8 287.6 L359.2 286.8 L360.2 288.1 L361.2 294.4 L362.0 302.9 L362.9 308.8 L363.7 305.4 L364.9 298.6 L366.3 294.4 L368.3 292.7 L370.5 292.2 L372.7 292.2 L374.4 293.6 L376.1 296.9 L377.8 302.0 L379.5 307.1 L380.7 313.0 L381.9 309.6 L383.2 303.7 L384.9 300.7 L386.9 300.3 L388.6 300.7 L390.3 301.7 L392.0 303.4 L393.7 305.4 L395.4 308.5 L397.1 312.2 L398.8 318.1 L399.3 320.7" fill="none" stroke="#ff3040" stroke-width="1.05" stroke-linejoin="round"/>
<path d="M331.5 344.4 L332.0 339.3 L333.2 332.5 L334.4 325.7 L335.8 321.5 L337.5 319.3 L339.2 318.6 L340.9 316.4 L342.2 307.1 L343.4 296.9 L345.1 293.6 L346.8 291.9 L348.5 290.5 L350.2 288.5 L351.4 286.4 L352.7 285.1 L354.4 283.7 L356.1 283.0 L357.8 282.0 L359.2 281.4 L360.2 283.0 L361.2 291.9 L362.0 300.3 L362.9 303.7 L363.7 301.7 L364.9 296.1 L366.3 292.7 L368.3 291.0 L370.5 289.3 L372.2 288.1 L373.4 288.8 L374.7 291.0 L376.4 296.9 L378.1 303.7 L379.8 309.6 L381.2 313.0 L382.4 309.6 L383.6 305.4 L385.2 303.4 L386.9 302.9 L388.6 302.9 L390.3 303.4 L392.0 304.6 L393.7 306.8 L395.4 309.6 L397.1 313.9 L398.8 319.0 L399.3 322.0" fill="none" stroke="#22b54c" stroke-width="1.05" stroke-linejoin="round"/>
<path d="M331.5 344.4 L332.0 339.3 L333.2 332.5 L334.4 325.7 L335.8 321.5 L337.5 319.3 L339.2 318.6 L340.9 316.4 L342.2 308.8 L343.4 300.3 L345.1 296.1 L346.8 294.4 L348.5 293.6 L350.2 292.2 L351.4 290.2 L352.7 288.8 L354.4 288.1 L356.1 287.6 L357.8 286.8 L359.2 286.4 L360.2 287.6 L361.2 294.4 L362.0 302.0 L362.9 305.4 L363.7 303.4 L364.9 296.9 L366.3 292.7 L368.3 290.5 L370.5 288.8 L372.2 287.6 L373.4 288.1 L374.7 290.2 L376.4 296.1 L378.1 302.0 L379.8 308.0 L381.2 310.5 L382.4 307.1 L383.6 302.9 L385.2 300.3 L386.9 300.0 L388.6 300.3 L390.3 301.2 L392.0 302.9 L393.7 305.1 L395.4 308.0 L397.1 312.2 L398.8 318.1 L399.3 320.7" fill="none" stroke="#1e88cc" stroke-width="1.05" stroke-linejoin="round"/>
</g>
<rect x="318.9" y="279.6" width="96.6" height="72.6" fill="none" stroke="#262626" stroke-width="0.9"/>
<text transform="translate(317.40 289.16) scale(0.1)" font-size="68.00" text-anchor="end">2000</text>
<line x1="318.9" y1="286.9" x2="320.1" y2="286.9" stroke="#262626" stroke-width="0.7"/>
<text transform="translate(317.40 303.68) scale(0.1)" font-size="68.00" text-anchor="end">1500</text>
<line x1="318.9" y1="301.4" x2="320.1" y2="301.4" stroke="#262626" stroke-width="0.7"/>
<text transform="translate(317.40 318.20) scale(0.1)" font-size="68.00" text-anchor="end">1000</text>
<line x1="318.9" y1="315.9" x2="320.1" y2="315.9" stroke="#262626" stroke-width="0.7"/>
<text transform="translate(317.40 332.72) scale(0.1)" font-size="68.00" text-anchor="end">500</text>
<line x1="318.9" y1="330.4" x2="320.1" y2="330.4" stroke="#262626" stroke-width="0.7"/>
<text transform="translate(317.40 347.24) scale(0.1)" font-size="68.00" text-anchor="end">0</text>
<line x1="318.9" y1="344.9" x2="320.1" y2="344.9" stroke="#262626" stroke-width="0.7"/>
<text transform="translate(318.90 359.00) scale(0.1)" font-size="68.00" text-anchor="middle">0</text>
<line x1="318.9" y1="352.2" x2="318.9" y2="351.0" stroke="#262626" stroke-width="0.7"/>
<text transform="translate(351.10 359.00) scale(0.1)" font-size="68.00" text-anchor="middle">1000</text>
<line x1="351.1" y1="352.2" x2="351.1" y2="351.0" stroke="#262626" stroke-width="0.7"/>
<text transform="translate(383.30 359.00) scale(0.1)" font-size="68.00" text-anchor="middle">2000</text>
<line x1="383.3" y1="352.2" x2="383.3" y2="351.0" stroke="#262626" stroke-width="0.7"/>
<text transform="translate(415.50 359.00) scale(0.1)" font-size="68.00" text-anchor="middle">3000</text>
<line x1="415.5" y1="352.2" x2="415.5" y2="351.0" stroke="#262626" stroke-width="0.7"/>
<text transform="translate(301.90 316.20) rotate(-90) scale(0.1)" font-size="82.00" text-anchor="middle">Reflectance</text>
<clipPath id="cpc4"><rect x="318.1" y="365.5" width="95.3" height="72.5"/></clipPath>
<g clip-path="url(#cpc4)">
<path d="M330.5 415.8 L331.0 411.6 L332.2 404.8 L333.9 399.7 L335.6 396.3 L337.3 395.2 L339.0 395.2 L340.7 393.8 L341.9 390.4 L343.2 386.2 L344.9 383.6 L346.6 382.8 L348.3 381.1 L350.0 379.4 L351.4 376.9 L353.1 376.0 L354.8 374.8 L356.5 373.8 L358.2 372.6 L359.2 373.8 L360.2 379.4 L361.0 388.7 L361.9 394.6 L362.7 392.1 L363.9 384.5 L365.3 380.2 L367.3 378.6 L369.5 378.2 L371.7 378.6 L373.4 379.4 L375.1 383.3 L376.8 388.7 L378.5 393.8 L379.7 396.3 L380.9 393.8 L382.2 389.6 L383.9 386.7 L385.9 386.2 L387.6 386.7 L389.3 387.4 L391.0 388.7 L392.7 390.8 L394.4 393.8 L396.1 398.0 L397.5 403.1" fill="none" stroke="#ff3040" stroke-width="1.05" stroke-linejoin="round"/>
<path d="M330.5 426.0 L331.0 420.9 L332.2 416.7 L333.9 414.1 L335.6 412.1 L337.3 409.0 L339.0 405.7 L340.7 401.4 L342.4 396.3 L344.1 393.0 L345.8 391.8 L347.5 390.8 L349.2 390.1 L350.9 388.7 L352.6 387.0 L354.3 386.2 L356.0 385.7 L357.6 385.3 L358.5 386.2 L359.3 390.4 L360.2 395.5 L361.2 398.0 L362.2 395.5 L363.6 393.0 L365.3 392.1 L367.3 392.1 L369.0 392.4 L370.7 393.8 L372.4 396.3 L374.1 399.7 L375.8 403.1 L377.5 406.5 L378.8 407.0 L380.5 404.8 L382.2 401.9 L383.9 400.6 L385.9 399.7 L387.6 399.7 L389.3 400.6 L391.0 401.4 L392.7 403.1 L394.4 405.7 L396.1 408.7 L397.5 413.3" fill="none" stroke="#22b54c" stroke-width="1.05" stroke-linejoin="round"/>
<path d="M330.5 427.7 L331.0 428.5 L331.7 436.2 L332.2 422.6 L333.1 417.5 L333.9 415.0 L334.8 415.8 L335.6 414.1 L336.5 411.6 L337.3 407.4 L338.2 410.7 L339.0 405.7 L339.9 400.6 L340.7 399.7 L341.2 405.7 L341.9 415.8 L342.4 398.9 L343.2 394.6 L344.1 392.1 L344.9 393.0 L345.8 391.3 L346.6 392.1 L347.5 395.5 L348.3 408.2 L349.2 397.2 L350.0 389.6 L350.9 387.9 L351.7 390.4 L352.6 388.7 L353.4 391.3 L354.3 391.3 L355.1 388.7 L356.0 393.0 L356.8 401.4 L357.6 406.5 L358.2 390.4 L358.8 387.0 L359.5 390.4 L360.2 393.8 L361.0 400.6 L361.9 404.8 L362.7 401.4 L363.6 396.3 L364.4 393.8 L365.3 395.5 L366.1 393.0 L367.3 390.4 L369.5 387.0 L371.2 384.5 L372.4 384.0 L373.7 385.3 L375.4 388.7 L377.1 393.0 L378.8 395.8 L380.5 393.8 L382.2 392.1 L383.9 391.3 L385.9 391.3 L387.6 391.8 L389.3 392.6 L391.0 393.8 L392.7 395.5 L394.4 398.0 L396.1 400.6 L397.5 404.0" fill="none" stroke="#1e88cc" stroke-width="1.05" stroke-linejoin="round"/>
</g>
<rect x="318.1" y="365.5" width="95.3" height="72.5" fill="none" stroke="#262626" stroke-width="0.9"/>
<text transform="translate(316.60 375.05) scale(0.1)" font-size="68.00" text-anchor="end">2000</text>
<line x1="318.1" y1="372.8" x2="319.3" y2="372.8" stroke="#262626" stroke-width="0.7"/>
<text transform="translate(316.60 389.55) scale(0.1)" font-size="68.00" text-anchor="end">1500</text>
<line x1="318.1" y1="387.2" x2="319.3" y2="387.2" stroke="#262626" stroke-width="0.7"/>
<text transform="translate(316.60 404.05) scale(0.1)" font-size="68.00" text-anchor="end">1000</text>
<line x1="318.1" y1="401.8" x2="319.3" y2="401.8" stroke="#262626" stroke-width="0.7"/>
<text transform="translate(316.60 418.55) scale(0.1)" font-size="68.00" text-anchor="end">500</text>
<line x1="318.1" y1="416.2" x2="319.3" y2="416.2" stroke="#262626" stroke-width="0.7"/>
<text transform="translate(316.60 433.05) scale(0.1)" font-size="68.00" text-anchor="end">0</text>
<line x1="318.1" y1="430.8" x2="319.3" y2="430.8" stroke="#262626" stroke-width="0.7"/>
<text transform="translate(318.10 444.70) scale(0.1)" font-size="68.00" text-anchor="middle">0</text>
<line x1="318.1" y1="438.0" x2="318.1" y2="436.8" stroke="#262626" stroke-width="0.7"/>
<text transform="translate(349.87 444.70) scale(0.1)" font-size="68.00" text-anchor="middle">1000</text>
<line x1="349.9" y1="438.0" x2="349.9" y2="436.8" stroke="#262626" stroke-width="0.7"/>
<text transform="translate(381.63 444.70) scale(0.1)" font-size="68.00" text-anchor="middle">2000</text>
<line x1="381.6" y1="438.0" x2="381.6" y2="436.8" stroke="#262626" stroke-width="0.7"/>
<text transform="translate(413.40 444.70) scale(0.1)" font-size="68.00" text-anchor="middle">3000</text>
<line x1="413.4" y1="438.0" x2="413.4" y2="436.8" stroke="#262626" stroke-width="0.7"/>
<text transform="translate(301.10 402.05) rotate(-90) scale(0.1)" font-size="82.00" text-anchor="middle">Reflectance</text>
<clipPath id="cpc5"><rect x="318.4" y="450.8" width="95.0" height="72.7"/></clipPath>
<g clip-path="url(#cpc5)">
<path d="M330.5 501.0 L331.0 496.7 L332.2 490.8 L333.9 485.7 L335.6 482.3 L336.5 480.3 L337.8 481.5 L339.4 481.0 L341.2 479.8 L342.6 475.2 L343.8 471.5 L345.4 469.1 L348.2 468.1 L349.5 465.4 L351.0 462.2 L353.9 461.8 L356.6 459.1 L358.0 458.3 L358.8 458.6 L359.8 462.9 L360.7 471.3 L361.5 477.3 L362.6 476.4 L363.9 469.6 L365.6 465.9 L367.8 464.2 L370.0 463.7 L371.7 463.7 L373.4 464.6 L375.1 467.9 L376.8 473.0 L378.5 477.3 L379.7 479.5 L380.9 476.4 L382.2 472.2 L383.9 471.3 L385.9 471.7 L387.6 472.2 L389.3 473.0 L391.0 474.4 L392.7 476.4 L394.4 479.8 L396.1 484.0 L397.5 489.1" fill="none" stroke="#ff3040" stroke-width="1.05" stroke-linejoin="round"/>
<path d="M330.5 510.3 L331.0 505.2 L332.2 500.1 L333.9 497.6 L335.6 495.9 L337.3 495.4 L338.5 494.7 L339.9 491.7 L341.2 485.7 L342.4 480.1 L343.6 478.1 L344.9 475.6 L346.3 474.2 L348.0 473.0 L349.2 472.3 L350.9 471.3 L352.6 470.0 L354.3 469.3 L356.0 468.3 L357.6 467.6 L358.8 467.1 L359.8 472.2 L360.7 481.5 L361.5 491.7 L362.6 500.1 L363.2 491.7 L364.3 477.3 L365.6 474.7 L367.8 472.7 L370.0 471.3 L371.7 471.0 L372.9 472.2 L374.6 475.6 L376.3 480.6 L377.5 485.7 L378.8 487.9 L380.2 486.6 L381.5 481.5 L383.2 479.5 L385.3 479.0 L387.3 479.0 L389.3 479.5 L391.0 480.6 L392.7 482.3 L394.4 485.7 L396.1 490.0 L397.5 494.7" fill="none" stroke="#22b54c" stroke-width="1.05" stroke-linejoin="round"/>
<path d="M330.5 515.4 L331.0 508.6 L331.7 501.8 L332.7 497.6 L333.9 495.9 L335.6 494.7 L337.3 494.2 L338.5 493.4 L339.5 498.4 L340.2 492.5 L341.6 486.9 L343.1 476.6 L343.9 471.8 L345.4 468.1 L346.8 466.8 L347.8 465.4 L348.7 467.3 L349.7 464.4 L350.5 462.4 L352.1 463.0 L353.4 463.9 L354.8 463.5 L355.8 464.4 L356.6 464.9 L358.0 461.2 L359.0 463.5 L359.8 467.1 L360.7 476.4 L361.5 481.5 L362.6 480.6 L363.9 474.7 L365.6 471.7 L367.8 469.6 L370.0 467.9 L371.7 467.1 L372.9 467.9 L374.6 471.3 L376.3 476.1 L378.0 480.6 L379.2 482.8 L380.5 480.6 L381.9 478.4 L383.6 477.8 L385.6 477.8 L387.6 478.1 L389.3 479.0 L391.0 480.6 L392.7 482.3 L394.4 484.9 L396.1 487.4 L397.5 491.7" fill="none" stroke="#1e88cc" stroke-width="1.05" stroke-linejoin="round"/>
</g>
<rect x="318.4" y="450.8" width="95.0" height="72.7" fill="none" stroke="#262626" stroke-width="0.9"/>
<text transform="translate(316.90 460.37) scale(0.1)" font-size="68.00" text-anchor="end">2000</text>
<line x1="318.4" y1="458.1" x2="319.6" y2="458.1" stroke="#262626" stroke-width="0.7"/>
<text transform="translate(316.90 474.91) scale(0.1)" font-size="68.00" text-anchor="end">1500</text>
<line x1="318.4" y1="472.6" x2="319.6" y2="472.6" stroke="#262626" stroke-width="0.7"/>
<text transform="translate(316.90 489.45) scale(0.1)" font-size="68.00" text-anchor="end">1000</text>
<line x1="318.4" y1="487.2" x2="319.6" y2="487.2" stroke="#262626" stroke-width="0.7"/>
<text transform="translate(316.90 503.99) scale(0.1)" font-size="68.00" text-anchor="end">500</text>
<line x1="318.4" y1="501.7" x2="319.6" y2="501.7" stroke="#262626" stroke-width="0.7"/>
<text transform="translate(316.90 518.53) scale(0.1)" font-size="68.00" text-anchor="end">0</text>
<line x1="318.4" y1="516.2" x2="319.6" y2="516.2" stroke="#262626" stroke-width="0.7"/>
<text transform="translate(318.40 530.00) scale(0.1)" font-size="68.00" text-anchor="middle">0</text>
<line x1="318.4" y1="523.5" x2="318.4" y2="522.3" stroke="#262626" stroke-width="0.7"/>
<text transform="translate(350.07 530.00) scale(0.1)" font-size="68.00" text-anchor="middle">1000</text>
<line x1="350.1" y1="523.5" x2="350.1" y2="522.3" stroke="#262626" stroke-width="0.7"/>
<text transform="translate(381.73 530.00) scale(0.1)" font-size="68.00" text-anchor="middle">2000</text>
<line x1="381.7" y1="523.5" x2="381.7" y2="522.3" stroke="#262626" stroke-width="0.7"/>
<text transform="translate(413.40 530.00) scale(0.1)" font-size="68.00" text-anchor="middle">3000</text>
<line x1="413.4" y1="523.5" x2="413.4" y2="522.3" stroke="#262626" stroke-width="0.7"/>
<text transform="translate(301.40 487.45) rotate(-90) scale(0.1)" font-size="82.00" text-anchor="middle">Reflectance</text>
<text transform="translate(94.10 543.10) scale(0.1)" font-size="103.00" text-anchor="middle" font-weight="bold">(a)</text>
<text transform="translate(223.40 543.10) scale(0.1)" font-size="103.00" text-anchor="middle" font-weight="bold">(b)</text>
<text transform="translate(352.40 543.10) scale(0.1)" font-size="103.00" text-anchor="middle" font-weight="bold">(c)</text>
</svg></body></html>
